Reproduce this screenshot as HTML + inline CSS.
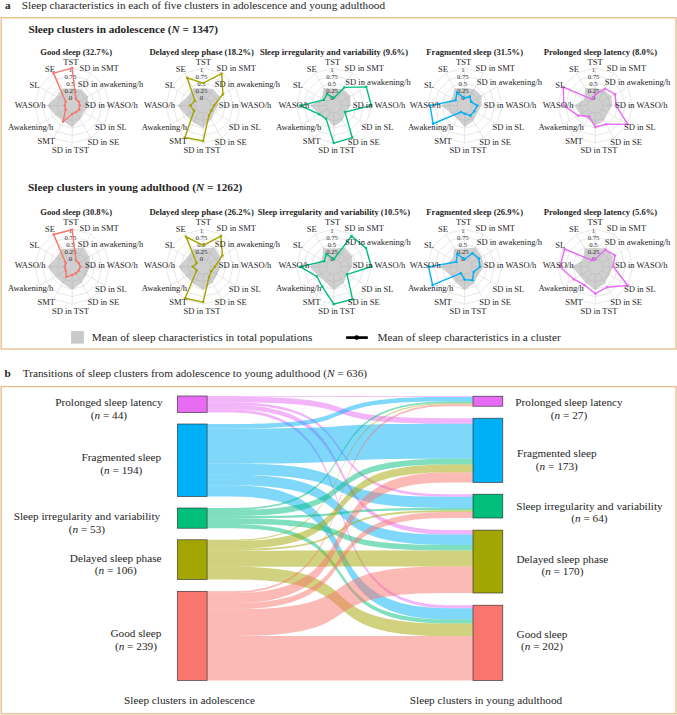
<!DOCTYPE html>
<html><head><meta charset="utf-8"><style>
html,body{margin:0;padding:0;background:#fff;width:677px;height:715px;overflow:hidden}
svg{display:block;font-family:"Liberation Serif",serif}
</style></head><body>
<svg width="677" height="715" viewBox="0 0 677 715">
<rect width="677" height="715" fill="#fff"/>
<rect x="1.2" y="17.7" width="674.8" height="331.3" fill="none" stroke="#E6C08E" stroke-width="1.4"/>
<rect x="1.2" y="386.6" width="674.8" height="327.2" fill="none" stroke="#E6C08E" stroke-width="1.4"/>
<text x="5.00" y="8.90" font-size="11.25" text-anchor="start" font-weight="bold" fill="#262626">a</text>
<text x="21.80" y="8.90" font-size="11.25" text-anchor="start" font-weight="normal" fill="#262626">Sleep characteristics in each of five clusters in adolescence and young adulthood</text>
<text x="4.40" y="376.60" font-size="11.25" text-anchor="start" font-weight="bold" fill="#262626">b</text>
<text x="22.70" y="376.60" font-size="11.25" text-anchor="start" font-weight="normal" fill="#262626">Transitions of sleep clusters from adolescence to young adulthood (<tspan font-style="italic">N</tspan> = 636)</text>
<text x="28.40" y="33.00" font-size="11.25" text-anchor="start" font-weight="bold" fill="#262626">Sleep clusters in adolescence (<tspan font-style="italic">N</tspan> = 1347)</text>
<text x="28.10" y="190.50" font-size="11.25" text-anchor="start" font-weight="bold" fill="#262626">Sleep clusters in young adulthood (<tspan font-style="italic">N</tspan> = 1262)</text>
<polygon points="72.20,98.10 68.45,99.10 65.70,101.85 64.70,105.60 65.70,109.35 68.45,112.10 72.20,113.10 75.95,112.10 78.70,109.35 79.70,105.60 78.70,101.85 75.95,99.10" fill="none" stroke="#DCDCDC" stroke-width="0.65"/>
<polygon points="72.20,90.60 64.70,92.61 59.21,98.10 57.20,105.60 59.21,113.10 64.70,118.59 72.20,120.60 79.70,118.59 85.19,113.10 87.20,105.60 85.19,98.10 79.70,92.61" fill="none" stroke="#DCDCDC" stroke-width="0.65"/>
<polygon points="72.20,83.10 60.95,86.11 52.71,94.35 49.70,105.60 52.71,116.85 60.95,125.09 72.20,128.10 83.45,125.09 91.69,116.85 94.70,105.60 91.69,94.35 83.45,86.11" fill="none" stroke="#DCDCDC" stroke-width="0.65"/>
<polygon points="72.20,75.60 57.20,79.62 46.22,90.60 42.20,105.60 46.22,120.60 57.20,131.58 72.20,135.60 87.20,131.58 98.18,120.60 102.20,105.60 98.18,90.60 87.20,79.62" fill="none" stroke="#DCDCDC" stroke-width="0.65"/>
<polygon points="72.20,68.10 53.45,73.12 39.72,86.85 34.70,105.60 39.72,124.35 53.45,138.08 72.20,143.10 90.95,138.08 104.68,124.35 109.70,105.60 104.68,86.85 90.95,73.12" fill="none" stroke="#DCDCDC" stroke-width="0.65"/>
<line x1="72.20" y1="98.10" x2="72.20" y2="68.10" stroke="#DCDCDC" stroke-width="0.65"/>
<line x1="68.45" y1="99.10" x2="53.45" y2="73.12" stroke="#DCDCDC" stroke-width="0.65"/>
<line x1="65.70" y1="101.85" x2="39.72" y2="86.85" stroke="#DCDCDC" stroke-width="0.65"/>
<line x1="64.70" y1="105.60" x2="34.70" y2="105.60" stroke="#DCDCDC" stroke-width="0.65"/>
<line x1="65.70" y1="109.35" x2="39.72" y2="124.35" stroke="#DCDCDC" stroke-width="0.65"/>
<line x1="68.45" y1="112.10" x2="53.45" y2="138.08" stroke="#DCDCDC" stroke-width="0.65"/>
<line x1="72.20" y1="113.10" x2="72.20" y2="143.10" stroke="#DCDCDC" stroke-width="0.65"/>
<line x1="75.95" y1="112.10" x2="90.95" y2="138.08" stroke="#DCDCDC" stroke-width="0.65"/>
<line x1="78.70" y1="109.35" x2="104.68" y2="124.35" stroke="#DCDCDC" stroke-width="0.65"/>
<line x1="79.70" y1="105.60" x2="109.70" y2="105.60" stroke="#DCDCDC" stroke-width="0.65"/>
<line x1="78.70" y1="101.85" x2="104.68" y2="86.85" stroke="#DCDCDC" stroke-width="0.65"/>
<line x1="75.95" y1="99.10" x2="90.95" y2="73.12" stroke="#DCDCDC" stroke-width="0.65"/>
<polygon points="72.20,88.50 62.30,88.45 56.61,96.60 47.00,105.60 55.57,115.20 63.20,121.19 72.20,127.20 80.15,119.37 83.89,112.35 88.10,105.60 88.05,96.45 81.50,89.49" fill="#9a9a9a" fill-opacity="0.47" stroke="none"/>
<text x="70.40" y="99.75" font-size="6.7" text-anchor="middle" fill="#333">0</text>
<text x="70.40" y="92.75" font-size="6.7" text-anchor="middle" fill="#333">0.25</text>
<text x="70.40" y="85.75" font-size="6.7" text-anchor="middle" fill="#333">0.5</text>
<text x="70.40" y="78.75" font-size="6.7" text-anchor="middle" fill="#333">0.75</text>
<text x="70.40" y="71.75" font-size="6.7" text-anchor="middle" fill="#333">1</text>
<polygon points="72.20,68.10 53.45,73.12 65.70,101.85 64.70,105.60 65.70,109.35 63.05,121.45 72.20,114.00 75.95,112.10 79.21,109.65 79.70,105.60 78.70,101.85 75.95,99.10" fill="none" stroke="#F8766D" stroke-width="1.4" stroke-linejoin="miter"/>
<circle cx="72.20" cy="68.10" r="1.25" fill="#F8766D"/>
<circle cx="53.45" cy="73.12" r="1.25" fill="#F8766D"/>
<circle cx="65.70" cy="101.85" r="1.25" fill="#F8766D"/>
<circle cx="64.70" cy="105.60" r="1.25" fill="#F8766D"/>
<circle cx="65.70" cy="109.35" r="1.25" fill="#F8766D"/>
<circle cx="63.05" cy="121.45" r="1.25" fill="#F8766D"/>
<circle cx="72.20" cy="114.00" r="1.25" fill="#F8766D"/>
<circle cx="75.95" cy="112.10" r="1.25" fill="#F8766D"/>
<circle cx="79.21" cy="109.65" r="1.25" fill="#F8766D"/>
<circle cx="79.70" cy="105.60" r="1.25" fill="#F8766D"/>
<circle cx="78.70" cy="101.85" r="1.25" fill="#F8766D"/>
<circle cx="75.95" cy="99.10" r="1.25" fill="#F8766D"/>
<text x="70.90" y="64.93" font-size="8.55" text-anchor="middle" fill="#262626">TST</text>
<text x="50.10" y="71.83" font-size="8.55" text-anchor="middle" fill="#262626">SE</text>
<text x="34.60" y="87.83" font-size="8.55" text-anchor="middle" fill="#262626">SL</text>
<text x="30.10" y="107.83" font-size="8.55" text-anchor="middle" fill="#262626">WASO/h</text>
<text x="30.70" y="129.53" font-size="8.55" text-anchor="middle" fill="#262626">Awakening/h</text>
<text x="46.30" y="144.03" font-size="8.55" text-anchor="middle" fill="#262626">SMT</text>
<text x="70.50" y="152.93" font-size="8.55" text-anchor="middle" fill="#262626">SD in TST</text>
<text x="103.30" y="144.53" font-size="8.55" text-anchor="middle" fill="#262626">SD in SE</text>
<text x="110.90" y="129.83" font-size="8.55" text-anchor="middle" fill="#262626">SD in SL</text>
<text x="111.40" y="108.13" font-size="8.55" text-anchor="middle" fill="#262626">SD in WASO/h</text>
<text x="110.60" y="86.53" font-size="8.55" text-anchor="middle" fill="#262626">SD in awakening/h</text>
<text x="99.10" y="70.53" font-size="8.55" text-anchor="middle" fill="#262626">SD in SMT</text>
<text x="76.20" y="54.60" font-size="8.6" font-weight="bold" text-anchor="middle" fill="#262626">Good sleep (32.7%)</text>
<polygon points="203.20,98.10 199.45,99.10 196.70,101.85 195.70,105.60 196.70,109.35 199.45,112.10 203.20,113.10 206.95,112.10 209.70,109.35 210.70,105.60 209.70,101.85 206.95,99.10" fill="none" stroke="#DCDCDC" stroke-width="0.65"/>
<polygon points="203.20,90.60 195.70,92.61 190.21,98.10 188.20,105.60 190.21,113.10 195.70,118.59 203.20,120.60 210.70,118.59 216.19,113.10 218.20,105.60 216.19,98.10 210.70,92.61" fill="none" stroke="#DCDCDC" stroke-width="0.65"/>
<polygon points="203.20,83.10 191.95,86.11 183.71,94.35 180.70,105.60 183.71,116.85 191.95,125.09 203.20,128.10 214.45,125.09 222.69,116.85 225.70,105.60 222.69,94.35 214.45,86.11" fill="none" stroke="#DCDCDC" stroke-width="0.65"/>
<polygon points="203.20,75.60 188.20,79.62 177.22,90.60 173.20,105.60 177.22,120.60 188.20,131.58 203.20,135.60 218.20,131.58 229.18,120.60 233.20,105.60 229.18,90.60 218.20,79.62" fill="none" stroke="#DCDCDC" stroke-width="0.65"/>
<polygon points="203.20,68.10 184.45,73.12 170.72,86.85 165.70,105.60 170.72,124.35 184.45,138.08 203.20,143.10 221.95,138.08 235.68,124.35 240.70,105.60 235.68,86.85 221.95,73.12" fill="none" stroke="#DCDCDC" stroke-width="0.65"/>
<line x1="203.20" y1="98.10" x2="203.20" y2="68.10" stroke="#DCDCDC" stroke-width="0.65"/>
<line x1="199.45" y1="99.10" x2="184.45" y2="73.12" stroke="#DCDCDC" stroke-width="0.65"/>
<line x1="196.70" y1="101.85" x2="170.72" y2="86.85" stroke="#DCDCDC" stroke-width="0.65"/>
<line x1="195.70" y1="105.60" x2="165.70" y2="105.60" stroke="#DCDCDC" stroke-width="0.65"/>
<line x1="196.70" y1="109.35" x2="170.72" y2="124.35" stroke="#DCDCDC" stroke-width="0.65"/>
<line x1="199.45" y1="112.10" x2="184.45" y2="138.08" stroke="#DCDCDC" stroke-width="0.65"/>
<line x1="203.20" y1="113.10" x2="203.20" y2="143.10" stroke="#DCDCDC" stroke-width="0.65"/>
<line x1="206.95" y1="112.10" x2="221.95" y2="138.08" stroke="#DCDCDC" stroke-width="0.65"/>
<line x1="209.70" y1="109.35" x2="235.68" y2="124.35" stroke="#DCDCDC" stroke-width="0.65"/>
<line x1="210.70" y1="105.60" x2="240.70" y2="105.60" stroke="#DCDCDC" stroke-width="0.65"/>
<line x1="209.70" y1="101.85" x2="235.68" y2="86.85" stroke="#DCDCDC" stroke-width="0.65"/>
<line x1="206.95" y1="99.10" x2="221.95" y2="73.12" stroke="#DCDCDC" stroke-width="0.65"/>
<polygon points="203.20,87.90 193.15,88.19 187.61,96.60 177.70,105.60 186.05,115.50 193.45,122.49 203.20,127.80 211.15,119.37 214.37,112.05 217.90,105.60 219.57,96.15 212.80,88.97" fill="#9a9a9a" fill-opacity="0.47" stroke="none"/>
<text x="201.40" y="99.75" font-size="6.7" text-anchor="middle" fill="#333">0</text>
<text x="201.40" y="92.75" font-size="6.7" text-anchor="middle" fill="#333">0.25</text>
<text x="201.40" y="85.75" font-size="6.7" text-anchor="middle" fill="#333">0.5</text>
<text x="201.40" y="78.75" font-size="6.7" text-anchor="middle" fill="#333">0.75</text>
<text x="201.40" y="71.75" font-size="6.7" text-anchor="middle" fill="#333">1</text>
<polygon points="203.20,83.10 187.15,77.80 194.89,100.80 190.30,105.60 194.11,110.85 184.82,137.43 203.20,141.00 208.90,115.47 211.51,110.40 214.00,105.60 222.95,94.20 221.65,73.64" fill="none" stroke="#A3A500" stroke-width="1.4" stroke-linejoin="miter"/>
<circle cx="203.20" cy="83.10" r="1.25" fill="#A3A500"/>
<circle cx="187.15" cy="77.80" r="1.25" fill="#A3A500"/>
<circle cx="194.89" cy="100.80" r="1.25" fill="#A3A500"/>
<circle cx="190.30" cy="105.60" r="1.25" fill="#A3A500"/>
<circle cx="194.11" cy="110.85" r="1.25" fill="#A3A500"/>
<circle cx="184.82" cy="137.43" r="1.25" fill="#A3A500"/>
<circle cx="203.20" cy="141.00" r="1.25" fill="#A3A500"/>
<circle cx="208.90" cy="115.47" r="1.25" fill="#A3A500"/>
<circle cx="211.51" cy="110.40" r="1.25" fill="#A3A500"/>
<circle cx="214.00" cy="105.60" r="1.25" fill="#A3A500"/>
<circle cx="222.95" cy="94.20" r="1.25" fill="#A3A500"/>
<circle cx="221.65" cy="73.64" r="1.25" fill="#A3A500"/>
<text x="203.30" y="64.93" font-size="8.55" text-anchor="middle" fill="#262626">TST</text>
<text x="180.70" y="71.83" font-size="8.55" text-anchor="middle" fill="#262626">SE</text>
<text x="170.10" y="87.83" font-size="8.55" text-anchor="middle" fill="#262626">SL</text>
<text x="159.50" y="107.83" font-size="8.55" text-anchor="middle" fill="#262626">WASO/h</text>
<text x="164.40" y="129.53" font-size="8.55" text-anchor="middle" fill="#262626">Awakening/h</text>
<text x="178.10" y="144.03" font-size="8.55" text-anchor="middle" fill="#262626">SMT</text>
<text x="202.00" y="152.93" font-size="8.55" text-anchor="middle" fill="#262626">SD in TST</text>
<text x="230.70" y="144.53" font-size="8.55" text-anchor="middle" fill="#262626">SD in SE</text>
<text x="244.70" y="129.83" font-size="8.55" text-anchor="middle" fill="#262626">SD in SL</text>
<text x="245.10" y="108.13" font-size="8.55" text-anchor="middle" fill="#262626">SD in WASO/h</text>
<text x="247.40" y="86.53" font-size="8.55" text-anchor="middle" fill="#262626">SD in awakening/h</text>
<text x="236.30" y="70.53" font-size="8.55" text-anchor="middle" fill="#262626">SD in SMT</text>
<text x="201.70" y="54.60" font-size="8.6" font-weight="bold" text-anchor="middle" fill="#262626">Delayed sleep phase (18.2%)</text>
<polygon points="333.80,98.10 330.05,99.10 327.30,101.85 326.30,105.60 327.30,109.35 330.05,112.10 333.80,113.10 337.55,112.10 340.30,109.35 341.30,105.60 340.30,101.85 337.55,99.10" fill="none" stroke="#DCDCDC" stroke-width="0.65"/>
<polygon points="333.80,90.60 326.30,92.61 320.81,98.10 318.80,105.60 320.81,113.10 326.30,118.59 333.80,120.60 341.30,118.59 346.79,113.10 348.80,105.60 346.79,98.10 341.30,92.61" fill="none" stroke="#DCDCDC" stroke-width="0.65"/>
<polygon points="333.80,83.10 322.55,86.11 314.31,94.35 311.30,105.60 314.31,116.85 322.55,125.09 333.80,128.10 345.05,125.09 353.29,116.85 356.30,105.60 353.29,94.35 345.05,86.11" fill="none" stroke="#DCDCDC" stroke-width="0.65"/>
<polygon points="333.80,75.60 318.80,79.62 307.82,90.60 303.80,105.60 307.82,120.60 318.80,131.58 333.80,135.60 348.80,131.58 359.78,120.60 363.80,105.60 359.78,90.60 348.80,79.62" fill="none" stroke="#DCDCDC" stroke-width="0.65"/>
<polygon points="333.80,68.10 315.05,73.12 301.32,86.85 296.30,105.60 301.32,124.35 315.05,138.08 333.80,143.10 352.55,138.08 366.28,124.35 371.30,105.60 366.28,86.85 352.55,73.12" fill="none" stroke="#DCDCDC" stroke-width="0.65"/>
<line x1="333.80" y1="98.10" x2="333.80" y2="68.10" stroke="#DCDCDC" stroke-width="0.65"/>
<line x1="330.05" y1="99.10" x2="315.05" y2="73.12" stroke="#DCDCDC" stroke-width="0.65"/>
<line x1="327.30" y1="101.85" x2="301.32" y2="86.85" stroke="#DCDCDC" stroke-width="0.65"/>
<line x1="326.30" y1="105.60" x2="296.30" y2="105.60" stroke="#DCDCDC" stroke-width="0.65"/>
<line x1="327.30" y1="109.35" x2="301.32" y2="124.35" stroke="#DCDCDC" stroke-width="0.65"/>
<line x1="330.05" y1="112.10" x2="315.05" y2="138.08" stroke="#DCDCDC" stroke-width="0.65"/>
<line x1="333.80" y1="113.10" x2="333.80" y2="143.10" stroke="#DCDCDC" stroke-width="0.65"/>
<line x1="337.55" y1="112.10" x2="352.55" y2="138.08" stroke="#DCDCDC" stroke-width="0.65"/>
<line x1="340.30" y1="109.35" x2="366.28" y2="124.35" stroke="#DCDCDC" stroke-width="0.65"/>
<line x1="341.30" y1="105.60" x2="371.30" y2="105.60" stroke="#DCDCDC" stroke-width="0.65"/>
<line x1="340.30" y1="101.85" x2="366.28" y2="86.85" stroke="#DCDCDC" stroke-width="0.65"/>
<line x1="337.55" y1="99.10" x2="352.55" y2="73.12" stroke="#DCDCDC" stroke-width="0.65"/>
<polygon points="333.80,88.50 323.60,87.93 321.85,98.70 310.70,105.60 318.73,114.30 326.45,118.33 333.80,126.60 342.50,120.67 345.49,112.35 350.60,105.60 350.43,96.00 343.40,88.97" fill="#9a9a9a" fill-opacity="0.47" stroke="none"/>
<text x="332.00" y="99.75" font-size="6.7" text-anchor="middle" fill="#333">0</text>
<text x="332.00" y="92.75" font-size="6.7" text-anchor="middle" fill="#333">0.25</text>
<text x="332.00" y="85.75" font-size="6.7" text-anchor="middle" fill="#333">0.5</text>
<text x="332.00" y="78.75" font-size="6.7" text-anchor="middle" fill="#333">0.75</text>
<text x="332.00" y="71.75" font-size="6.7" text-anchor="middle" fill="#333">1</text>
<polygon points="333.80,98.10 327.05,93.91 323.93,99.90 300.20,105.60 318.99,114.15 326.15,118.85 333.80,143.10 352.25,137.56 344.97,112.05 371.30,105.60 366.28,86.85 344.30,87.41" fill="none" stroke="#00BF7D" stroke-width="1.4" stroke-linejoin="miter"/>
<circle cx="333.80" cy="98.10" r="1.25" fill="#00BF7D"/>
<circle cx="327.05" cy="93.91" r="1.25" fill="#00BF7D"/>
<circle cx="323.93" cy="99.90" r="1.25" fill="#00BF7D"/>
<circle cx="300.20" cy="105.60" r="1.25" fill="#00BF7D"/>
<circle cx="318.99" cy="114.15" r="1.25" fill="#00BF7D"/>
<circle cx="326.15" cy="118.85" r="1.25" fill="#00BF7D"/>
<circle cx="333.80" cy="143.10" r="1.25" fill="#00BF7D"/>
<circle cx="352.25" cy="137.56" r="1.25" fill="#00BF7D"/>
<circle cx="344.97" cy="112.05" r="1.25" fill="#00BF7D"/>
<circle cx="371.30" cy="105.60" r="1.25" fill="#00BF7D"/>
<circle cx="366.28" cy="86.85" r="1.25" fill="#00BF7D"/>
<circle cx="344.30" cy="87.41" r="1.25" fill="#00BF7D"/>
<text x="332.70" y="64.93" font-size="8.55" text-anchor="middle" fill="#262626">TST</text>
<text x="311.70" y="71.83" font-size="8.55" text-anchor="middle" fill="#262626">SE</text>
<text x="298.00" y="87.83" font-size="8.55" text-anchor="middle" fill="#262626">SL</text>
<text x="293.90" y="107.83" font-size="8.55" text-anchor="middle" fill="#262626">WASO/h</text>
<text x="298.70" y="129.53" font-size="8.55" text-anchor="middle" fill="#262626">Awakening/h</text>
<text x="311.60" y="144.03" font-size="8.55" text-anchor="middle" fill="#262626">SMT</text>
<text x="336.60" y="152.93" font-size="8.55" text-anchor="middle" fill="#262626">SD in TST</text>
<text x="363.70" y="144.53" font-size="8.55" text-anchor="middle" fill="#262626">SD in SE</text>
<text x="377.50" y="129.83" font-size="8.55" text-anchor="middle" fill="#262626">SD in SL</text>
<text x="379.00" y="108.13" font-size="8.55" text-anchor="middle" fill="#262626">SD in WASO/h</text>
<text x="378.00" y="85.03" font-size="8.55" text-anchor="middle" fill="#262626">SD in awakening/h</text>
<text x="364.30" y="70.53" font-size="8.55" text-anchor="middle" fill="#262626">SD in SMT</text>
<text x="334.00" y="54.60" font-size="8.6" font-weight="bold" text-anchor="middle" fill="#262626">Sleep irregularity and variability (9.6%)</text>
<polygon points="464.60,98.10 460.85,99.10 458.10,101.85 457.10,105.60 458.10,109.35 460.85,112.10 464.60,113.10 468.35,112.10 471.10,109.35 472.10,105.60 471.10,101.85 468.35,99.10" fill="none" stroke="#DCDCDC" stroke-width="0.65"/>
<polygon points="464.60,90.60 457.10,92.61 451.61,98.10 449.60,105.60 451.61,113.10 457.10,118.59 464.60,120.60 472.10,118.59 477.59,113.10 479.60,105.60 477.59,98.10 472.10,92.61" fill="none" stroke="#DCDCDC" stroke-width="0.65"/>
<polygon points="464.60,83.10 453.35,86.11 445.11,94.35 442.10,105.60 445.11,116.85 453.35,125.09 464.60,128.10 475.85,125.09 484.09,116.85 487.10,105.60 484.09,94.35 475.85,86.11" fill="none" stroke="#DCDCDC" stroke-width="0.65"/>
<polygon points="464.60,75.60 449.60,79.62 438.62,90.60 434.60,105.60 438.62,120.60 449.60,131.58 464.60,135.60 479.60,131.58 490.58,120.60 494.60,105.60 490.58,90.60 479.60,79.62" fill="none" stroke="#DCDCDC" stroke-width="0.65"/>
<polygon points="464.60,68.10 445.85,73.12 432.12,86.85 427.10,105.60 432.12,124.35 445.85,138.08 464.60,143.10 483.35,138.08 497.08,124.35 502.10,105.60 497.08,86.85 483.35,73.12" fill="none" stroke="#DCDCDC" stroke-width="0.65"/>
<line x1="464.60" y1="98.10" x2="464.60" y2="68.10" stroke="#DCDCDC" stroke-width="0.65"/>
<line x1="460.85" y1="99.10" x2="445.85" y2="73.12" stroke="#DCDCDC" stroke-width="0.65"/>
<line x1="458.10" y1="101.85" x2="432.12" y2="86.85" stroke="#DCDCDC" stroke-width="0.65"/>
<line x1="457.10" y1="105.60" x2="427.10" y2="105.60" stroke="#DCDCDC" stroke-width="0.65"/>
<line x1="458.10" y1="109.35" x2="432.12" y2="124.35" stroke="#DCDCDC" stroke-width="0.65"/>
<line x1="460.85" y1="112.10" x2="445.85" y2="138.08" stroke="#DCDCDC" stroke-width="0.65"/>
<line x1="464.60" y1="113.10" x2="464.60" y2="143.10" stroke="#DCDCDC" stroke-width="0.65"/>
<line x1="468.35" y1="112.10" x2="483.35" y2="138.08" stroke="#DCDCDC" stroke-width="0.65"/>
<line x1="471.10" y1="109.35" x2="497.08" y2="124.35" stroke="#DCDCDC" stroke-width="0.65"/>
<line x1="472.10" y1="105.60" x2="502.10" y2="105.60" stroke="#DCDCDC" stroke-width="0.65"/>
<line x1="471.10" y1="101.85" x2="497.08" y2="86.85" stroke="#DCDCDC" stroke-width="0.65"/>
<line x1="468.35" y1="99.10" x2="483.35" y2="73.12" stroke="#DCDCDC" stroke-width="0.65"/>
<polygon points="464.60,87.90 454.55,88.19 452.39,98.55 441.50,105.60 451.09,113.40 457.10,118.59 464.60,126.90 473.30,120.67 477.07,112.80 481.40,105.60 481.75,95.70 474.20,88.97" fill="#9a9a9a" fill-opacity="0.47" stroke="none"/>
<text x="462.80" y="99.75" font-size="6.7" text-anchor="middle" fill="#333">0</text>
<text x="462.80" y="92.75" font-size="6.7" text-anchor="middle" fill="#333">0.25</text>
<text x="462.80" y="85.75" font-size="6.7" text-anchor="middle" fill="#333">0.5</text>
<text x="462.80" y="78.75" font-size="6.7" text-anchor="middle" fill="#333">0.75</text>
<text x="462.80" y="71.75" font-size="6.7" text-anchor="middle" fill="#333">1</text>
<polygon points="464.60,98.10 457.10,92.61 455.51,100.35 430.10,105.60 433.16,123.75 460.85,112.10 464.60,113.70 470.45,115.73 474.21,111.15 477.20,105.60 471.10,101.85 469.85,96.51" fill="none" stroke="#00B0F6" stroke-width="1.4" stroke-linejoin="miter"/>
<circle cx="464.60" cy="98.10" r="1.25" fill="#00B0F6"/>
<circle cx="457.10" cy="92.61" r="1.25" fill="#00B0F6"/>
<circle cx="455.51" cy="100.35" r="1.25" fill="#00B0F6"/>
<circle cx="430.10" cy="105.60" r="1.25" fill="#00B0F6"/>
<circle cx="433.16" cy="123.75" r="1.25" fill="#00B0F6"/>
<circle cx="460.85" cy="112.10" r="1.25" fill="#00B0F6"/>
<circle cx="464.60" cy="113.70" r="1.25" fill="#00B0F6"/>
<circle cx="470.45" cy="115.73" r="1.25" fill="#00B0F6"/>
<circle cx="474.21" cy="111.15" r="1.25" fill="#00B0F6"/>
<circle cx="477.20" cy="105.60" r="1.25" fill="#00B0F6"/>
<circle cx="471.10" cy="101.85" r="1.25" fill="#00B0F6"/>
<circle cx="469.85" cy="96.51" r="1.25" fill="#00B0F6"/>
<text x="463.60" y="64.93" font-size="8.55" text-anchor="middle" fill="#262626">TST</text>
<text x="443.10" y="71.83" font-size="8.55" text-anchor="middle" fill="#262626">SE</text>
<text x="428.90" y="87.83" font-size="8.55" text-anchor="middle" fill="#262626">SL</text>
<text x="425.30" y="107.83" font-size="8.55" text-anchor="middle" fill="#262626">WASO/h</text>
<text x="430.60" y="129.53" font-size="8.55" text-anchor="middle" fill="#262626">Awakening/h</text>
<text x="443.00" y="144.03" font-size="8.55" text-anchor="middle" fill="#262626">SMT</text>
<text x="468.00" y="152.93" font-size="8.55" text-anchor="middle" fill="#262626">SD in TST</text>
<text x="495.10" y="144.53" font-size="8.55" text-anchor="middle" fill="#262626">SD in SE</text>
<text x="508.40" y="129.83" font-size="8.55" text-anchor="middle" fill="#262626">SD in SL</text>
<text x="510.10" y="108.13" font-size="8.55" text-anchor="middle" fill="#262626">SD in WASO/h</text>
<text x="509.40" y="85.03" font-size="8.55" text-anchor="middle" fill="#262626">SD in awakening/h</text>
<text x="495.30" y="70.53" font-size="8.55" text-anchor="middle" fill="#262626">SD in SMT</text>
<text x="474.70" y="54.60" font-size="8.6" font-weight="bold" text-anchor="middle" fill="#262626">Fragmented sleep (31.5%)</text>
<polygon points="595.30,98.10 591.55,99.10 588.80,101.85 587.80,105.60 588.80,109.35 591.55,112.10 595.30,113.10 599.05,112.10 601.80,109.35 602.80,105.60 601.80,101.85 599.05,99.10" fill="none" stroke="#DCDCDC" stroke-width="0.65"/>
<polygon points="595.30,90.60 587.80,92.61 582.31,98.10 580.30,105.60 582.31,113.10 587.80,118.59 595.30,120.60 602.80,118.59 608.29,113.10 610.30,105.60 608.29,98.10 602.80,92.61" fill="none" stroke="#DCDCDC" stroke-width="0.65"/>
<polygon points="595.30,83.10 584.05,86.11 575.81,94.35 572.80,105.60 575.81,116.85 584.05,125.09 595.30,128.10 606.55,125.09 614.79,116.85 617.80,105.60 614.79,94.35 606.55,86.11" fill="none" stroke="#DCDCDC" stroke-width="0.65"/>
<polygon points="595.30,75.60 580.30,79.62 569.32,90.60 565.30,105.60 569.32,120.60 580.30,131.58 595.30,135.60 610.30,131.58 621.28,120.60 625.30,105.60 621.28,90.60 610.30,79.62" fill="none" stroke="#DCDCDC" stroke-width="0.65"/>
<polygon points="595.30,68.10 576.55,73.12 562.82,86.85 557.80,105.60 562.82,124.35 576.55,138.08 595.30,143.10 614.05,138.08 627.78,124.35 632.80,105.60 627.78,86.85 614.05,73.12" fill="none" stroke="#DCDCDC" stroke-width="0.65"/>
<line x1="595.30" y1="98.10" x2="595.30" y2="68.10" stroke="#DCDCDC" stroke-width="0.65"/>
<line x1="591.55" y1="99.10" x2="576.55" y2="73.12" stroke="#DCDCDC" stroke-width="0.65"/>
<line x1="588.80" y1="101.85" x2="562.82" y2="86.85" stroke="#DCDCDC" stroke-width="0.65"/>
<line x1="587.80" y1="105.60" x2="557.80" y2="105.60" stroke="#DCDCDC" stroke-width="0.65"/>
<line x1="588.80" y1="109.35" x2="562.82" y2="124.35" stroke="#DCDCDC" stroke-width="0.65"/>
<line x1="591.55" y1="112.10" x2="576.55" y2="138.08" stroke="#DCDCDC" stroke-width="0.65"/>
<line x1="595.30" y1="113.10" x2="595.30" y2="143.10" stroke="#DCDCDC" stroke-width="0.65"/>
<line x1="599.05" y1="112.10" x2="614.05" y2="138.08" stroke="#DCDCDC" stroke-width="0.65"/>
<line x1="601.80" y1="109.35" x2="627.78" y2="124.35" stroke="#DCDCDC" stroke-width="0.65"/>
<line x1="602.80" y1="105.60" x2="632.80" y2="105.60" stroke="#DCDCDC" stroke-width="0.65"/>
<line x1="601.80" y1="101.85" x2="627.78" y2="86.85" stroke="#DCDCDC" stroke-width="0.65"/>
<line x1="599.05" y1="99.10" x2="614.05" y2="73.12" stroke="#DCDCDC" stroke-width="0.65"/>
<polygon points="595.30,87.90 585.10,87.93 584.13,99.15 574.30,105.60 580.23,114.30 587.65,118.85 595.30,125.70 604.00,120.67 607.51,112.65 612.10,105.60 611.41,96.30 604.15,90.27" fill="#9a9a9a" fill-opacity="0.47" stroke="none"/>
<text x="593.50" y="99.75" font-size="6.7" text-anchor="middle" fill="#333">0</text>
<text x="593.50" y="92.75" font-size="6.7" text-anchor="middle" fill="#333">0.25</text>
<text x="593.50" y="85.75" font-size="6.7" text-anchor="middle" fill="#333">0.5</text>
<text x="593.50" y="78.75" font-size="6.7" text-anchor="middle" fill="#333">0.75</text>
<text x="593.50" y="71.75" font-size="6.7" text-anchor="middle" fill="#333">1</text>
<polygon points="595.30,94.50 591.55,99.10 563.34,87.15 563.80,105.60 578.15,115.50 589.00,116.51 595.30,126.90 606.10,124.31 627.78,124.35 616.00,105.60 615.05,94.20 605.05,88.71" fill="none" stroke="#E76BF3" stroke-width="1.4" stroke-linejoin="miter"/>
<circle cx="595.30" cy="94.50" r="1.25" fill="#E76BF3"/>
<circle cx="591.55" cy="99.10" r="1.25" fill="#E76BF3"/>
<circle cx="563.34" cy="87.15" r="1.25" fill="#E76BF3"/>
<circle cx="563.80" cy="105.60" r="1.25" fill="#E76BF3"/>
<circle cx="578.15" cy="115.50" r="1.25" fill="#E76BF3"/>
<circle cx="589.00" cy="116.51" r="1.25" fill="#E76BF3"/>
<circle cx="595.30" cy="126.90" r="1.25" fill="#E76BF3"/>
<circle cx="606.10" cy="124.31" r="1.25" fill="#E76BF3"/>
<circle cx="627.78" cy="124.35" r="1.25" fill="#E76BF3"/>
<circle cx="616.00" cy="105.60" r="1.25" fill="#E76BF3"/>
<circle cx="615.05" cy="94.20" r="1.25" fill="#E76BF3"/>
<circle cx="605.05" cy="88.71" r="1.25" fill="#E76BF3"/>
<text x="595.20" y="64.93" font-size="8.55" text-anchor="middle" fill="#262626">TST</text>
<text x="573.90" y="71.83" font-size="8.55" text-anchor="middle" fill="#262626">SE</text>
<text x="560.20" y="87.83" font-size="8.55" text-anchor="middle" fill="#262626">SL</text>
<text x="558.10" y="107.83" font-size="8.55" text-anchor="middle" fill="#262626">WASO/h</text>
<text x="561.20" y="129.53" font-size="8.55" text-anchor="middle" fill="#262626">Awakening/h</text>
<text x="574.00" y="144.03" font-size="8.55" text-anchor="middle" fill="#262626">SMT</text>
<text x="599.00" y="152.93" font-size="8.55" text-anchor="middle" fill="#262626">SD in TST</text>
<text x="626.10" y="144.53" font-size="8.55" text-anchor="middle" fill="#262626">SD in SE</text>
<text x="639.80" y="129.83" font-size="8.55" text-anchor="middle" fill="#262626">SD in SL</text>
<text x="641.20" y="108.13" font-size="8.55" text-anchor="middle" fill="#262626">SD in WASO/h</text>
<text x="637.60" y="85.03" font-size="8.55" text-anchor="middle" fill="#262626">SD in awakening/h</text>
<text x="626.40" y="70.53" font-size="8.55" text-anchor="middle" fill="#262626">SD in SMT</text>
<text x="600.50" y="54.60" font-size="8.6" font-weight="bold" text-anchor="middle" fill="#262626">Prolonged sleep latency (8.0%)</text>
<polygon points="72.20,259.20 68.45,260.20 65.70,262.95 64.70,266.70 65.70,270.45 68.45,273.20 72.20,274.20 75.95,273.20 78.70,270.45 79.70,266.70 78.70,262.95 75.95,260.20" fill="none" stroke="#DCDCDC" stroke-width="0.65"/>
<polygon points="72.20,251.70 64.70,253.71 59.21,259.20 57.20,266.70 59.21,274.20 64.70,279.69 72.20,281.70 79.70,279.69 85.19,274.20 87.20,266.70 85.19,259.20 79.70,253.71" fill="none" stroke="#DCDCDC" stroke-width="0.65"/>
<polygon points="72.20,244.20 60.95,247.21 52.71,255.45 49.70,266.70 52.71,277.95 60.95,286.19 72.20,289.20 83.45,286.19 91.69,277.95 94.70,266.70 91.69,255.45 83.45,247.21" fill="none" stroke="#DCDCDC" stroke-width="0.65"/>
<polygon points="72.20,236.70 57.20,240.72 46.22,251.70 42.20,266.70 46.22,281.70 57.20,292.68 72.20,296.70 87.20,292.68 98.18,281.70 102.20,266.70 98.18,251.70 87.20,240.72" fill="none" stroke="#DCDCDC" stroke-width="0.65"/>
<polygon points="72.20,229.20 53.45,234.22 39.72,247.95 34.70,266.70 39.72,285.45 53.45,299.18 72.20,304.20 90.95,299.18 104.68,285.45 109.70,266.70 104.68,247.95 90.95,234.22" fill="none" stroke="#DCDCDC" stroke-width="0.65"/>
<line x1="72.20" y1="259.20" x2="72.20" y2="229.20" stroke="#DCDCDC" stroke-width="0.65"/>
<line x1="68.45" y1="260.20" x2="53.45" y2="234.22" stroke="#DCDCDC" stroke-width="0.65"/>
<line x1="65.70" y1="262.95" x2="39.72" y2="247.95" stroke="#DCDCDC" stroke-width="0.65"/>
<line x1="64.70" y1="266.70" x2="34.70" y2="266.70" stroke="#DCDCDC" stroke-width="0.65"/>
<line x1="65.70" y1="270.45" x2="39.72" y2="285.45" stroke="#DCDCDC" stroke-width="0.65"/>
<line x1="68.45" y1="273.20" x2="53.45" y2="299.18" stroke="#DCDCDC" stroke-width="0.65"/>
<line x1="72.20" y1="274.20" x2="72.20" y2="304.20" stroke="#DCDCDC" stroke-width="0.65"/>
<line x1="75.95" y1="273.20" x2="90.95" y2="299.18" stroke="#DCDCDC" stroke-width="0.65"/>
<line x1="78.70" y1="270.45" x2="104.68" y2="285.45" stroke="#DCDCDC" stroke-width="0.65"/>
<line x1="79.70" y1="266.70" x2="109.70" y2="266.70" stroke="#DCDCDC" stroke-width="0.65"/>
<line x1="78.70" y1="262.95" x2="104.68" y2="247.95" stroke="#DCDCDC" stroke-width="0.65"/>
<line x1="75.95" y1="260.20" x2="90.95" y2="234.22" stroke="#DCDCDC" stroke-width="0.65"/>
<polygon points="72.20,248.40 61.85,248.77 56.09,257.40 47.60,266.70 55.31,276.45 62.60,283.33 72.20,289.80 81.50,282.81 86.49,274.95 89.90,266.70 89.61,256.65 83.30,247.47" fill="#9a9a9a" fill-opacity="0.47" stroke="none"/>
<text x="70.40" y="260.85" font-size="6.7" text-anchor="middle" fill="#333">0</text>
<text x="70.40" y="253.85" font-size="6.7" text-anchor="middle" fill="#333">0.25</text>
<text x="70.40" y="246.85" font-size="6.7" text-anchor="middle" fill="#333">0.5</text>
<text x="70.40" y="239.85" font-size="6.7" text-anchor="middle" fill="#333">0.75</text>
<text x="70.40" y="232.85" font-size="6.7" text-anchor="middle" fill="#333">1</text>
<polygon points="72.20,229.80 53.60,234.48 65.70,262.95 64.70,266.70 65.70,270.45 66.35,276.83 72.20,275.10 75.95,273.20 78.70,270.45 80.30,266.70 78.70,262.95 75.95,260.20" fill="none" stroke="#F8766D" stroke-width="1.4" stroke-linejoin="miter"/>
<circle cx="72.20" cy="229.80" r="1.25" fill="#F8766D"/>
<circle cx="53.60" cy="234.48" r="1.25" fill="#F8766D"/>
<circle cx="65.70" cy="262.95" r="1.25" fill="#F8766D"/>
<circle cx="64.70" cy="266.70" r="1.25" fill="#F8766D"/>
<circle cx="65.70" cy="270.45" r="1.25" fill="#F8766D"/>
<circle cx="66.35" cy="276.83" r="1.25" fill="#F8766D"/>
<circle cx="72.20" cy="275.10" r="1.25" fill="#F8766D"/>
<circle cx="75.95" cy="273.20" r="1.25" fill="#F8766D"/>
<circle cx="78.70" cy="270.45" r="1.25" fill="#F8766D"/>
<circle cx="80.30" cy="266.70" r="1.25" fill="#F8766D"/>
<circle cx="78.70" cy="262.95" r="1.25" fill="#F8766D"/>
<circle cx="75.95" cy="260.20" r="1.25" fill="#F8766D"/>
<text x="70.90" y="224.93" font-size="8.55" text-anchor="middle" fill="#262626">TST</text>
<text x="50.10" y="231.83" font-size="8.55" text-anchor="middle" fill="#262626">SE</text>
<text x="34.60" y="247.83" font-size="8.55" text-anchor="middle" fill="#262626">SL</text>
<text x="30.10" y="267.83" font-size="8.55" text-anchor="middle" fill="#262626">WASO/h</text>
<text x="30.70" y="291.23" font-size="8.55" text-anchor="middle" fill="#262626">Awakening/h</text>
<text x="46.30" y="304.83" font-size="8.55" text-anchor="middle" fill="#262626">SMT</text>
<text x="70.50" y="313.53" font-size="8.55" text-anchor="middle" fill="#262626">SD in TST</text>
<text x="103.30" y="304.53" font-size="8.55" text-anchor="middle" fill="#262626">SD in SE</text>
<text x="110.90" y="291.53" font-size="8.55" text-anchor="middle" fill="#262626">SD in SL</text>
<text x="111.40" y="268.13" font-size="8.55" text-anchor="middle" fill="#262626">SD in WASO/h</text>
<text x="110.60" y="246.53" font-size="8.55" text-anchor="middle" fill="#262626">SD in awakening/h</text>
<text x="99.10" y="230.53" font-size="8.55" text-anchor="middle" fill="#262626">SD in SMT</text>
<text x="76.20" y="214.60" font-size="8.6" font-weight="bold" text-anchor="middle" fill="#262626">Good sleep (30.8%)</text>
<polygon points="203.20,259.20 199.45,260.20 196.70,262.95 195.70,266.70 196.70,270.45 199.45,273.20 203.20,274.20 206.95,273.20 209.70,270.45 210.70,266.70 209.70,262.95 206.95,260.20" fill="none" stroke="#DCDCDC" stroke-width="0.65"/>
<polygon points="203.20,251.70 195.70,253.71 190.21,259.20 188.20,266.70 190.21,274.20 195.70,279.69 203.20,281.70 210.70,279.69 216.19,274.20 218.20,266.70 216.19,259.20 210.70,253.71" fill="none" stroke="#DCDCDC" stroke-width="0.65"/>
<polygon points="203.20,244.20 191.95,247.21 183.71,255.45 180.70,266.70 183.71,277.95 191.95,286.19 203.20,289.20 214.45,286.19 222.69,277.95 225.70,266.70 222.69,255.45 214.45,247.21" fill="none" stroke="#DCDCDC" stroke-width="0.65"/>
<polygon points="203.20,236.70 188.20,240.72 177.22,251.70 173.20,266.70 177.22,281.70 188.20,292.68 203.20,296.70 218.20,292.68 229.18,281.70 233.20,266.70 229.18,251.70 218.20,240.72" fill="none" stroke="#DCDCDC" stroke-width="0.65"/>
<polygon points="203.20,229.20 184.45,234.22 170.72,247.95 165.70,266.70 170.72,285.45 184.45,299.18 203.20,304.20 221.95,299.18 235.68,285.45 240.70,266.70 235.68,247.95 221.95,234.22" fill="none" stroke="#DCDCDC" stroke-width="0.65"/>
<line x1="203.20" y1="259.20" x2="203.20" y2="229.20" stroke="#DCDCDC" stroke-width="0.65"/>
<line x1="199.45" y1="260.20" x2="184.45" y2="234.22" stroke="#DCDCDC" stroke-width="0.65"/>
<line x1="196.70" y1="262.95" x2="170.72" y2="247.95" stroke="#DCDCDC" stroke-width="0.65"/>
<line x1="195.70" y1="266.70" x2="165.70" y2="266.70" stroke="#DCDCDC" stroke-width="0.65"/>
<line x1="196.70" y1="270.45" x2="170.72" y2="285.45" stroke="#DCDCDC" stroke-width="0.65"/>
<line x1="199.45" y1="273.20" x2="184.45" y2="299.18" stroke="#DCDCDC" stroke-width="0.65"/>
<line x1="203.20" y1="274.20" x2="203.20" y2="304.20" stroke="#DCDCDC" stroke-width="0.65"/>
<line x1="206.95" y1="273.20" x2="221.95" y2="299.18" stroke="#DCDCDC" stroke-width="0.65"/>
<line x1="209.70" y1="270.45" x2="235.68" y2="285.45" stroke="#DCDCDC" stroke-width="0.65"/>
<line x1="210.70" y1="266.70" x2="240.70" y2="266.70" stroke="#DCDCDC" stroke-width="0.65"/>
<line x1="209.70" y1="262.95" x2="235.68" y2="247.95" stroke="#DCDCDC" stroke-width="0.65"/>
<line x1="206.95" y1="260.20" x2="221.95" y2="234.22" stroke="#DCDCDC" stroke-width="0.65"/>
<polygon points="203.20,248.40 193.00,249.03 187.09,257.40 178.60,266.70 186.31,276.45 193.30,283.85 203.20,289.80 212.50,282.81 217.23,274.80 220.30,266.70 220.61,256.65 214.30,247.47" fill="#9a9a9a" fill-opacity="0.47" stroke="none"/>
<text x="201.40" y="260.85" font-size="6.7" text-anchor="middle" fill="#333">0</text>
<text x="201.40" y="253.85" font-size="6.7" text-anchor="middle" fill="#333">0.25</text>
<text x="201.40" y="246.85" font-size="6.7" text-anchor="middle" fill="#333">0.5</text>
<text x="201.40" y="239.85" font-size="6.7" text-anchor="middle" fill="#333">0.75</text>
<text x="201.40" y="232.85" font-size="6.7" text-anchor="middle" fill="#333">1</text>
<polygon points="203.20,245.40 185.95,236.82 196.70,262.95 192.70,266.70 196.70,270.45 185.05,298.14 203.20,302.10 209.05,276.83 211.25,271.35 214.90,266.70 222.43,255.60 220.90,236.04" fill="none" stroke="#A3A500" stroke-width="1.4" stroke-linejoin="miter"/>
<circle cx="203.20" cy="245.40" r="1.25" fill="#A3A500"/>
<circle cx="185.95" cy="236.82" r="1.25" fill="#A3A500"/>
<circle cx="196.70" cy="262.95" r="1.25" fill="#A3A500"/>
<circle cx="192.70" cy="266.70" r="1.25" fill="#A3A500"/>
<circle cx="196.70" cy="270.45" r="1.25" fill="#A3A500"/>
<circle cx="185.05" cy="298.14" r="1.25" fill="#A3A500"/>
<circle cx="203.20" cy="302.10" r="1.25" fill="#A3A500"/>
<circle cx="209.05" cy="276.83" r="1.25" fill="#A3A500"/>
<circle cx="211.25" cy="271.35" r="1.25" fill="#A3A500"/>
<circle cx="214.90" cy="266.70" r="1.25" fill="#A3A500"/>
<circle cx="222.43" cy="255.60" r="1.25" fill="#A3A500"/>
<circle cx="220.90" cy="236.04" r="1.25" fill="#A3A500"/>
<text x="203.30" y="224.93" font-size="8.55" text-anchor="middle" fill="#262626">TST</text>
<text x="180.70" y="231.83" font-size="8.55" text-anchor="middle" fill="#262626">SE</text>
<text x="170.10" y="247.83" font-size="8.55" text-anchor="middle" fill="#262626">SL</text>
<text x="159.50" y="267.83" font-size="8.55" text-anchor="middle" fill="#262626">WASO/h</text>
<text x="164.40" y="291.23" font-size="8.55" text-anchor="middle" fill="#262626">Awakening/h</text>
<text x="178.10" y="304.83" font-size="8.55" text-anchor="middle" fill="#262626">SMT</text>
<text x="202.00" y="313.53" font-size="8.55" text-anchor="middle" fill="#262626">SD in TST</text>
<text x="230.70" y="304.53" font-size="8.55" text-anchor="middle" fill="#262626">SD in SE</text>
<text x="244.70" y="291.53" font-size="8.55" text-anchor="middle" fill="#262626">SD in SL</text>
<text x="245.10" y="268.13" font-size="8.55" text-anchor="middle" fill="#262626">SD in WASO/h</text>
<text x="247.40" y="246.53" font-size="8.55" text-anchor="middle" fill="#262626">SD in awakening/h</text>
<text x="236.30" y="230.53" font-size="8.55" text-anchor="middle" fill="#262626">SD in SMT</text>
<text x="201.70" y="214.60" font-size="8.6" font-weight="bold" text-anchor="middle" fill="#262626">Delayed sleep phase (26.2%)</text>
<polygon points="333.80,259.20 330.05,260.20 327.30,262.95 326.30,266.70 327.30,270.45 330.05,273.20 333.80,274.20 337.55,273.20 340.30,270.45 341.30,266.70 340.30,262.95 337.55,260.20" fill="none" stroke="#DCDCDC" stroke-width="0.65"/>
<polygon points="333.80,251.70 326.30,253.71 320.81,259.20 318.80,266.70 320.81,274.20 326.30,279.69 333.80,281.70 341.30,279.69 346.79,274.20 348.80,266.70 346.79,259.20 341.30,253.71" fill="none" stroke="#DCDCDC" stroke-width="0.65"/>
<polygon points="333.80,244.20 322.55,247.21 314.31,255.45 311.30,266.70 314.31,277.95 322.55,286.19 333.80,289.20 345.05,286.19 353.29,277.95 356.30,266.70 353.29,255.45 345.05,247.21" fill="none" stroke="#DCDCDC" stroke-width="0.65"/>
<polygon points="333.80,236.70 318.80,240.72 307.82,251.70 303.80,266.70 307.82,281.70 318.80,292.68 333.80,296.70 348.80,292.68 359.78,281.70 363.80,266.70 359.78,251.70 348.80,240.72" fill="none" stroke="#DCDCDC" stroke-width="0.65"/>
<polygon points="333.80,229.20 315.05,234.22 301.32,247.95 296.30,266.70 301.32,285.45 315.05,299.18 333.80,304.20 352.55,299.18 366.28,285.45 371.30,266.70 366.28,247.95 352.55,234.22" fill="none" stroke="#DCDCDC" stroke-width="0.65"/>
<line x1="333.80" y1="259.20" x2="333.80" y2="229.20" stroke="#DCDCDC" stroke-width="0.65"/>
<line x1="330.05" y1="260.20" x2="315.05" y2="234.22" stroke="#DCDCDC" stroke-width="0.65"/>
<line x1="327.30" y1="262.95" x2="301.32" y2="247.95" stroke="#DCDCDC" stroke-width="0.65"/>
<line x1="326.30" y1="266.70" x2="296.30" y2="266.70" stroke="#DCDCDC" stroke-width="0.65"/>
<line x1="327.30" y1="270.45" x2="301.32" y2="285.45" stroke="#DCDCDC" stroke-width="0.65"/>
<line x1="330.05" y1="273.20" x2="315.05" y2="299.18" stroke="#DCDCDC" stroke-width="0.65"/>
<line x1="333.80" y1="274.20" x2="333.80" y2="304.20" stroke="#DCDCDC" stroke-width="0.65"/>
<line x1="337.55" y1="273.20" x2="352.55" y2="299.18" stroke="#DCDCDC" stroke-width="0.65"/>
<line x1="340.30" y1="270.45" x2="366.28" y2="285.45" stroke="#DCDCDC" stroke-width="0.65"/>
<line x1="341.30" y1="266.70" x2="371.30" y2="266.70" stroke="#DCDCDC" stroke-width="0.65"/>
<line x1="340.30" y1="262.95" x2="366.28" y2="247.95" stroke="#DCDCDC" stroke-width="0.65"/>
<line x1="337.55" y1="260.20" x2="352.55" y2="234.22" stroke="#DCDCDC" stroke-width="0.65"/>
<polygon points="333.80,248.40 323.15,248.25 322.11,259.95 309.80,266.70 317.95,275.85 325.10,281.77 333.80,290.10 343.40,283.33 347.31,274.50 352.40,266.70 352.25,256.05 344.75,247.73" fill="#9a9a9a" fill-opacity="0.47" stroke="none"/>
<text x="332.00" y="260.85" font-size="6.7" text-anchor="middle" fill="#333">0</text>
<text x="332.00" y="253.85" font-size="6.7" text-anchor="middle" fill="#333">0.25</text>
<text x="332.00" y="246.85" font-size="6.7" text-anchor="middle" fill="#333">0.5</text>
<text x="332.00" y="239.85" font-size="6.7" text-anchor="middle" fill="#333">0.75</text>
<text x="332.00" y="232.85" font-size="6.7" text-anchor="middle" fill="#333">1</text>
<polygon points="333.80,259.20 326.45,253.97 324.19,261.15 300.20,266.70 316.91,276.45 322.25,286.71 333.80,304.20 352.55,299.18 347.05,274.35 371.30,266.70 366.02,248.10 351.50,236.04" fill="none" stroke="#00BF7D" stroke-width="1.4" stroke-linejoin="miter"/>
<circle cx="333.80" cy="259.20" r="1.25" fill="#00BF7D"/>
<circle cx="326.45" cy="253.97" r="1.25" fill="#00BF7D"/>
<circle cx="324.19" cy="261.15" r="1.25" fill="#00BF7D"/>
<circle cx="300.20" cy="266.70" r="1.25" fill="#00BF7D"/>
<circle cx="316.91" cy="276.45" r="1.25" fill="#00BF7D"/>
<circle cx="322.25" cy="286.71" r="1.25" fill="#00BF7D"/>
<circle cx="333.80" cy="304.20" r="1.25" fill="#00BF7D"/>
<circle cx="352.55" cy="299.18" r="1.25" fill="#00BF7D"/>
<circle cx="347.05" cy="274.35" r="1.25" fill="#00BF7D"/>
<circle cx="371.30" cy="266.70" r="1.25" fill="#00BF7D"/>
<circle cx="366.02" cy="248.10" r="1.25" fill="#00BF7D"/>
<circle cx="351.50" cy="236.04" r="1.25" fill="#00BF7D"/>
<text x="332.70" y="224.93" font-size="8.55" text-anchor="middle" fill="#262626">TST</text>
<text x="311.70" y="231.83" font-size="8.55" text-anchor="middle" fill="#262626">SE</text>
<text x="298.00" y="247.83" font-size="8.55" text-anchor="middle" fill="#262626">SL</text>
<text x="293.90" y="267.83" font-size="8.55" text-anchor="middle" fill="#262626">WASO/h</text>
<text x="298.70" y="291.23" font-size="8.55" text-anchor="middle" fill="#262626">Awakening/h</text>
<text x="311.60" y="304.83" font-size="8.55" text-anchor="middle" fill="#262626">SMT</text>
<text x="336.60" y="313.53" font-size="8.55" text-anchor="middle" fill="#262626">SD in TST</text>
<text x="363.70" y="304.53" font-size="8.55" text-anchor="middle" fill="#262626">SD in SE</text>
<text x="377.50" y="291.53" font-size="8.55" text-anchor="middle" fill="#262626">SD in SL</text>
<text x="379.00" y="268.13" font-size="8.55" text-anchor="middle" fill="#262626">SD in WASO/h</text>
<text x="378.00" y="245.03" font-size="8.55" text-anchor="middle" fill="#262626">SD in awakening/h</text>
<text x="364.30" y="230.53" font-size="8.55" text-anchor="middle" fill="#262626">SD in SMT</text>
<text x="334.00" y="214.60" font-size="8.6" font-weight="bold" text-anchor="middle" fill="#262626">Sleep irregularity and variability (10.5%)</text>
<polygon points="464.60,259.20 460.85,260.20 458.10,262.95 457.10,266.70 458.10,270.45 460.85,273.20 464.60,274.20 468.35,273.20 471.10,270.45 472.10,266.70 471.10,262.95 468.35,260.20" fill="none" stroke="#DCDCDC" stroke-width="0.65"/>
<polygon points="464.60,251.70 457.10,253.71 451.61,259.20 449.60,266.70 451.61,274.20 457.10,279.69 464.60,281.70 472.10,279.69 477.59,274.20 479.60,266.70 477.59,259.20 472.10,253.71" fill="none" stroke="#DCDCDC" stroke-width="0.65"/>
<polygon points="464.60,244.20 453.35,247.21 445.11,255.45 442.10,266.70 445.11,277.95 453.35,286.19 464.60,289.20 475.85,286.19 484.09,277.95 487.10,266.70 484.09,255.45 475.85,247.21" fill="none" stroke="#DCDCDC" stroke-width="0.65"/>
<polygon points="464.60,236.70 449.60,240.72 438.62,251.70 434.60,266.70 438.62,281.70 449.60,292.68 464.60,296.70 479.60,292.68 490.58,281.70 494.60,266.70 490.58,251.70 479.60,240.72" fill="none" stroke="#DCDCDC" stroke-width="0.65"/>
<polygon points="464.60,229.20 445.85,234.22 432.12,247.95 427.10,266.70 432.12,285.45 445.85,299.18 464.60,304.20 483.35,299.18 497.08,285.45 502.10,266.70 497.08,247.95 483.35,234.22" fill="none" stroke="#DCDCDC" stroke-width="0.65"/>
<line x1="464.60" y1="259.20" x2="464.60" y2="229.20" stroke="#DCDCDC" stroke-width="0.65"/>
<line x1="460.85" y1="260.20" x2="445.85" y2="234.22" stroke="#DCDCDC" stroke-width="0.65"/>
<line x1="458.10" y1="262.95" x2="432.12" y2="247.95" stroke="#DCDCDC" stroke-width="0.65"/>
<line x1="457.10" y1="266.70" x2="427.10" y2="266.70" stroke="#DCDCDC" stroke-width="0.65"/>
<line x1="458.10" y1="270.45" x2="432.12" y2="285.45" stroke="#DCDCDC" stroke-width="0.65"/>
<line x1="460.85" y1="273.20" x2="445.85" y2="299.18" stroke="#DCDCDC" stroke-width="0.65"/>
<line x1="464.60" y1="274.20" x2="464.60" y2="304.20" stroke="#DCDCDC" stroke-width="0.65"/>
<line x1="468.35" y1="273.20" x2="483.35" y2="299.18" stroke="#DCDCDC" stroke-width="0.65"/>
<line x1="471.10" y1="270.45" x2="497.08" y2="285.45" stroke="#DCDCDC" stroke-width="0.65"/>
<line x1="472.10" y1="266.70" x2="502.10" y2="266.70" stroke="#DCDCDC" stroke-width="0.65"/>
<line x1="471.10" y1="262.95" x2="497.08" y2="247.95" stroke="#DCDCDC" stroke-width="0.65"/>
<line x1="468.35" y1="260.20" x2="483.35" y2="234.22" stroke="#DCDCDC" stroke-width="0.65"/>
<polygon points="464.60,248.40 454.25,248.77 452.65,259.80 440.30,266.70 450.05,275.10 455.60,282.29 464.60,290.10 474.20,283.33 478.37,274.65 483.80,266.70 482.01,256.65 475.70,247.47" fill="#9a9a9a" fill-opacity="0.47" stroke="none"/>
<text x="462.80" y="260.85" font-size="6.7" text-anchor="middle" fill="#333">0</text>
<text x="462.80" y="253.85" font-size="6.7" text-anchor="middle" fill="#333">0.25</text>
<text x="462.80" y="246.85" font-size="6.7" text-anchor="middle" fill="#333">0.5</text>
<text x="462.80" y="239.85" font-size="6.7" text-anchor="middle" fill="#333">0.75</text>
<text x="462.80" y="232.85" font-size="6.7" text-anchor="middle" fill="#333">1</text>
<polygon points="464.60,259.20 457.25,253.97 456.29,261.90 428.60,266.70 432.64,285.15 460.85,273.20 464.60,279.60 472.40,280.21 473.69,271.95 479.90,266.70 478.89,258.45 472.40,253.19" fill="none" stroke="#00B0F6" stroke-width="1.4" stroke-linejoin="miter"/>
<circle cx="464.60" cy="259.20" r="1.25" fill="#00B0F6"/>
<circle cx="457.25" cy="253.97" r="1.25" fill="#00B0F6"/>
<circle cx="456.29" cy="261.90" r="1.25" fill="#00B0F6"/>
<circle cx="428.60" cy="266.70" r="1.25" fill="#00B0F6"/>
<circle cx="432.64" cy="285.15" r="1.25" fill="#00B0F6"/>
<circle cx="460.85" cy="273.20" r="1.25" fill="#00B0F6"/>
<circle cx="464.60" cy="279.60" r="1.25" fill="#00B0F6"/>
<circle cx="472.40" cy="280.21" r="1.25" fill="#00B0F6"/>
<circle cx="473.69" cy="271.95" r="1.25" fill="#00B0F6"/>
<circle cx="479.90" cy="266.70" r="1.25" fill="#00B0F6"/>
<circle cx="478.89" cy="258.45" r="1.25" fill="#00B0F6"/>
<circle cx="472.40" cy="253.19" r="1.25" fill="#00B0F6"/>
<text x="463.60" y="224.93" font-size="8.55" text-anchor="middle" fill="#262626">TST</text>
<text x="443.10" y="231.83" font-size="8.55" text-anchor="middle" fill="#262626">SE</text>
<text x="428.90" y="247.83" font-size="8.55" text-anchor="middle" fill="#262626">SL</text>
<text x="425.30" y="267.83" font-size="8.55" text-anchor="middle" fill="#262626">WASO/h</text>
<text x="430.60" y="291.23" font-size="8.55" text-anchor="middle" fill="#262626">Awakening/h</text>
<text x="443.00" y="304.83" font-size="8.55" text-anchor="middle" fill="#262626">SMT</text>
<text x="468.00" y="313.53" font-size="8.55" text-anchor="middle" fill="#262626">SD in TST</text>
<text x="495.10" y="304.53" font-size="8.55" text-anchor="middle" fill="#262626">SD in SE</text>
<text x="508.40" y="291.53" font-size="8.55" text-anchor="middle" fill="#262626">SD in SL</text>
<text x="510.10" y="268.13" font-size="8.55" text-anchor="middle" fill="#262626">SD in WASO/h</text>
<text x="509.40" y="245.03" font-size="8.55" text-anchor="middle" fill="#262626">SD in awakening/h</text>
<text x="495.30" y="230.53" font-size="8.55" text-anchor="middle" fill="#262626">SD in SMT</text>
<text x="474.70" y="214.60" font-size="8.6" font-weight="bold" text-anchor="middle" fill="#262626">Fragmented sleep (26.9%)</text>
<polygon points="595.30,259.20 591.55,260.20 588.80,262.95 587.80,266.70 588.80,270.45 591.55,273.20 595.30,274.20 599.05,273.20 601.80,270.45 602.80,266.70 601.80,262.95 599.05,260.20" fill="none" stroke="#DCDCDC" stroke-width="0.65"/>
<polygon points="595.30,251.70 587.80,253.71 582.31,259.20 580.30,266.70 582.31,274.20 587.80,279.69 595.30,281.70 602.80,279.69 608.29,274.20 610.30,266.70 608.29,259.20 602.80,253.71" fill="none" stroke="#DCDCDC" stroke-width="0.65"/>
<polygon points="595.30,244.20 584.05,247.21 575.81,255.45 572.80,266.70 575.81,277.95 584.05,286.19 595.30,289.20 606.55,286.19 614.79,277.95 617.80,266.70 614.79,255.45 606.55,247.21" fill="none" stroke="#DCDCDC" stroke-width="0.65"/>
<polygon points="595.30,236.70 580.30,240.72 569.32,251.70 565.30,266.70 569.32,281.70 580.30,292.68 595.30,296.70 610.30,292.68 621.28,281.70 625.30,266.70 621.28,251.70 610.30,240.72" fill="none" stroke="#DCDCDC" stroke-width="0.65"/>
<polygon points="595.30,229.20 576.55,234.22 562.82,247.95 557.80,266.70 562.82,285.45 576.55,299.18 595.30,304.20 614.05,299.18 627.78,285.45 632.80,266.70 627.78,247.95 614.05,234.22" fill="none" stroke="#DCDCDC" stroke-width="0.65"/>
<line x1="595.30" y1="259.20" x2="595.30" y2="229.20" stroke="#DCDCDC" stroke-width="0.65"/>
<line x1="591.55" y1="260.20" x2="576.55" y2="234.22" stroke="#DCDCDC" stroke-width="0.65"/>
<line x1="588.80" y1="262.95" x2="562.82" y2="247.95" stroke="#DCDCDC" stroke-width="0.65"/>
<line x1="587.80" y1="266.70" x2="557.80" y2="266.70" stroke="#DCDCDC" stroke-width="0.65"/>
<line x1="588.80" y1="270.45" x2="562.82" y2="285.45" stroke="#DCDCDC" stroke-width="0.65"/>
<line x1="591.55" y1="273.20" x2="576.55" y2="299.18" stroke="#DCDCDC" stroke-width="0.65"/>
<line x1="595.30" y1="274.20" x2="595.30" y2="304.20" stroke="#DCDCDC" stroke-width="0.65"/>
<line x1="599.05" y1="273.20" x2="614.05" y2="299.18" stroke="#DCDCDC" stroke-width="0.65"/>
<line x1="601.80" y1="270.45" x2="627.78" y2="285.45" stroke="#DCDCDC" stroke-width="0.65"/>
<line x1="602.80" y1="266.70" x2="632.80" y2="266.70" stroke="#DCDCDC" stroke-width="0.65"/>
<line x1="601.80" y1="262.95" x2="627.78" y2="247.95" stroke="#DCDCDC" stroke-width="0.65"/>
<line x1="599.05" y1="260.20" x2="614.05" y2="234.22" stroke="#DCDCDC" stroke-width="0.65"/>
<polygon points="595.30,248.10 584.65,248.25 583.09,259.65 572.20,266.70 579.71,275.70 585.85,283.07 595.30,290.10 604.90,283.33 609.33,274.80 613.30,266.70 612.71,256.65 605.80,248.51" fill="#9a9a9a" fill-opacity="0.47" stroke="none"/>
<text x="593.50" y="260.85" font-size="6.7" text-anchor="middle" fill="#333">0</text>
<text x="593.50" y="253.85" font-size="6.7" text-anchor="middle" fill="#333">0.25</text>
<text x="593.50" y="246.85" font-size="6.7" text-anchor="middle" fill="#333">0.5</text>
<text x="593.50" y="239.85" font-size="6.7" text-anchor="middle" fill="#333">0.75</text>
<text x="593.50" y="232.85" font-size="6.7" text-anchor="middle" fill="#333">1</text>
<polygon points="595.30,259.20 591.55,260.20 564.64,249.00 559.90,266.70 573.74,279.15 584.65,285.15 595.30,293.70 607.15,287.22 627.78,285.45 613.30,266.70 614.79,255.45 605.20,249.55" fill="none" stroke="#E76BF3" stroke-width="1.4" stroke-linejoin="miter"/>
<circle cx="595.30" cy="259.20" r="1.25" fill="#E76BF3"/>
<circle cx="591.55" cy="260.20" r="1.25" fill="#E76BF3"/>
<circle cx="564.64" cy="249.00" r="1.25" fill="#E76BF3"/>
<circle cx="559.90" cy="266.70" r="1.25" fill="#E76BF3"/>
<circle cx="573.74" cy="279.15" r="1.25" fill="#E76BF3"/>
<circle cx="584.65" cy="285.15" r="1.25" fill="#E76BF3"/>
<circle cx="595.30" cy="293.70" r="1.25" fill="#E76BF3"/>
<circle cx="607.15" cy="287.22" r="1.25" fill="#E76BF3"/>
<circle cx="627.78" cy="285.45" r="1.25" fill="#E76BF3"/>
<circle cx="613.30" cy="266.70" r="1.25" fill="#E76BF3"/>
<circle cx="614.79" cy="255.45" r="1.25" fill="#E76BF3"/>
<circle cx="605.20" cy="249.55" r="1.25" fill="#E76BF3"/>
<text x="595.20" y="224.93" font-size="8.55" text-anchor="middle" fill="#262626">TST</text>
<text x="573.90" y="231.83" font-size="8.55" text-anchor="middle" fill="#262626">SE</text>
<text x="560.20" y="247.83" font-size="8.55" text-anchor="middle" fill="#262626">SL</text>
<text x="558.10" y="267.83" font-size="8.55" text-anchor="middle" fill="#262626">WASO/h</text>
<text x="561.20" y="291.23" font-size="8.55" text-anchor="middle" fill="#262626">Awakening/h</text>
<text x="574.00" y="304.83" font-size="8.55" text-anchor="middle" fill="#262626">SMT</text>
<text x="599.00" y="313.53" font-size="8.55" text-anchor="middle" fill="#262626">SD in TST</text>
<text x="626.10" y="304.53" font-size="8.55" text-anchor="middle" fill="#262626">SD in SE</text>
<text x="639.80" y="291.53" font-size="8.55" text-anchor="middle" fill="#262626">SD in SL</text>
<text x="641.20" y="268.13" font-size="8.55" text-anchor="middle" fill="#262626">SD in WASO/h</text>
<text x="637.60" y="245.03" font-size="8.55" text-anchor="middle" fill="#262626">SD in awakening/h</text>
<text x="626.40" y="230.53" font-size="8.55" text-anchor="middle" fill="#262626">SD in SMT</text>
<text x="600.50" y="214.60" font-size="8.6" font-weight="bold" text-anchor="middle" fill="#262626">Prolonged sleep latency (5.6%)</text>
<rect x="71.1" y="331.1" width="12.8" height="12.5" fill="#C9C9C9"/>
<text x="91.80" y="341.00" font-size="11.25" text-anchor="start" font-weight="normal" fill="#262626">Mean of sleep characteristics in total populations</text>
<line x1="346.1" y1="337.6" x2="367.8" y2="337.6" stroke="#000" stroke-width="2.7"/>
<circle cx="356.7" cy="337.6" r="2.3" fill="#000"/>
<text x="377.60" y="341.00" font-size="11.25" text-anchor="start" font-weight="normal" fill="#262626">Mean of sleep characteristics in a cluster</text>
<path d="M207.1,396.0 L233.7,396.0 L251.1,396.0 L266.3,396.0 L279.5,396.0 L290.8,396.0 L300.5,396.0 L308.8,396.0 L315.9,396.0 L321.9,396.1 L327.2,396.1 L331.8,396.1 L336.0,396.1 L340.0,396.1 L344.1,396.1 L348.3,396.1 L352.9,396.1 L358.2,396.1 L364.2,396.2 L371.3,396.2 L379.6,396.2 L389.3,396.2 L400.6,396.2 L413.8,396.2 L429.0,396.2 L446.4,396.2 L473.0,396.2 L473.0,396.9 L446.4,396.9 L429.0,396.9 L413.8,396.9 L400.6,396.9 L389.3,396.9 L379.6,396.9 L371.3,396.9 L364.2,396.9 L358.2,396.9 L352.9,396.9 L348.3,396.9 L344.1,396.9 L340.0,396.8 L336.0,396.8 L331.8,396.8 L327.2,396.8 L321.9,396.8 L315.9,396.8 L308.8,396.8 L300.5,396.8 L290.8,396.8 L279.5,396.8 L266.3,396.8 L251.1,396.8 L233.7,396.8 L207.1,396.8 Z" fill="#E76BF3" fill-opacity="0.5"/>
<path d="M207.1,396.8 L233.7,396.8 L251.1,396.9 L266.3,397.2 L279.5,397.7 L290.8,398.3 L300.5,399.2 L308.8,400.1 L315.9,401.2 L321.9,402.3 L327.2,403.5 L331.8,404.8 L336.0,406.1 L340.0,407.5 L344.1,408.8 L348.3,410.1 L352.9,411.4 L358.2,412.6 L364.2,413.8 L371.3,414.8 L379.6,415.8 L389.3,416.6 L400.6,417.3 L413.8,417.8 L429.0,418.1 L446.4,418.2 L473.0,418.2 L473.0,423.8 L446.4,423.8 L429.0,423.7 L413.8,423.3 L400.6,422.8 L389.3,422.2 L379.6,421.4 L371.3,420.4 L364.2,419.4 L358.2,418.2 L352.9,417.0 L348.3,415.7 L344.1,414.4 L340.0,413.1 L336.0,411.7 L331.8,410.4 L327.2,409.1 L321.9,407.9 L315.9,406.8 L308.8,405.7 L300.5,404.8 L290.8,404.0 L279.5,403.3 L266.3,402.8 L251.1,402.5 L233.7,402.4 L207.1,402.4 Z" fill="#E76BF3" fill-opacity="0.5"/>
<path d="M207.1,402.4 L233.7,402.4 L251.1,402.8 L266.3,404.2 L279.5,406.3 L290.8,409.2 L300.5,412.7 L308.8,416.7 L315.9,421.3 L321.9,426.2 L327.2,431.4 L331.8,436.9 L336.0,442.6 L340.0,448.3 L344.1,454.0 L348.3,459.7 L352.9,465.1 L358.2,470.4 L364.2,475.3 L371.3,479.9 L379.6,483.9 L389.3,487.4 L400.6,490.3 L413.8,492.4 L429.0,493.7 L446.4,494.2 L473.0,494.2 L473.0,496.8 L446.4,496.8 L429.0,496.3 L413.8,495.0 L400.6,492.9 L389.3,490.0 L379.6,486.5 L371.3,482.5 L364.2,477.9 L358.2,473.0 L352.9,467.8 L348.3,462.3 L344.1,456.6 L340.0,450.9 L336.0,445.2 L331.8,439.5 L327.2,434.0 L321.9,428.8 L315.9,423.9 L308.8,419.3 L300.5,415.3 L290.8,411.8 L279.5,408.9 L266.3,406.8 L251.1,405.5 L233.7,405.0 L207.1,405.0 Z" fill="#E76BF3" fill-opacity="0.5"/>
<path d="M207.1,405.0 L233.7,405.0 L251.1,405.6 L266.3,407.5 L279.5,410.4 L290.8,414.3 L300.5,419.0 L308.8,424.5 L315.9,430.7 L321.9,437.4 L327.2,444.6 L331.8,452.1 L336.0,459.7 L340.0,467.6 L344.1,475.4 L348.3,483.0 L352.9,490.5 L358.2,497.7 L364.2,504.4 L371.3,510.6 L379.6,516.1 L389.3,520.8 L400.6,524.7 L413.8,527.6 L429.0,529.5 L446.4,530.1 L473.0,530.1 L473.0,534.5 L446.4,534.5 L429.0,533.9 L413.8,532.1 L400.6,529.2 L389.3,525.3 L379.6,520.5 L371.3,515.0 L364.2,508.8 L358.2,502.1 L352.9,495.0 L348.3,487.5 L344.1,479.8 L340.0,472.0 L336.0,464.2 L331.8,456.5 L327.2,449.1 L321.9,441.9 L315.9,435.2 L308.8,429.0 L300.5,423.5 L290.8,418.8 L279.5,414.9 L266.3,412.0 L251.1,410.1 L233.7,409.5 L207.1,409.5 Z" fill="#E76BF3" fill-opacity="0.5"/>
<path d="M207.1,409.5 L233.7,409.5 L251.1,410.5 L266.3,413.4 L279.5,417.9 L290.8,424.0 L300.5,431.4 L308.8,440.1 L315.9,449.7 L321.9,460.2 L327.2,471.4 L331.8,483.1 L336.0,495.1 L340.0,507.4 L344.1,519.6 L348.3,531.6 L352.9,543.3 L358.2,554.5 L364.2,565.0 L371.3,574.6 L379.6,583.3 L389.3,590.7 L400.6,596.8 L413.8,601.3 L429.0,604.2 L446.4,605.2 L473.0,605.2 L473.0,608.2 L446.4,608.2 L429.0,607.2 L413.8,604.3 L400.6,599.8 L389.3,593.7 L379.6,586.2 L371.3,577.6 L364.2,568.0 L358.2,557.4 L352.9,546.3 L348.3,534.6 L344.1,522.5 L340.0,510.3 L336.0,498.1 L331.8,486.1 L327.2,474.4 L321.9,463.2 L315.9,452.7 L308.8,443.1 L300.5,434.4 L290.8,427.0 L279.5,420.9 L266.3,416.4 L251.1,413.5 L233.7,412.5 L207.1,412.5 Z" fill="#E76BF3" fill-opacity="0.5"/>
<path d="M207.1,424.0 L233.7,424.0 L251.1,423.9 L266.3,423.5 L279.5,422.8 L290.8,422.0 L300.5,421.0 L308.8,419.8 L315.9,418.4 L321.9,417.0 L327.2,415.4 L331.8,413.8 L336.0,412.2 L340.0,410.5 L344.1,408.8 L348.3,407.1 L352.9,405.5 L358.2,404.0 L364.2,402.5 L371.3,401.2 L379.6,400.0 L389.3,398.9 L400.6,398.1 L413.8,397.5 L429.0,397.1 L446.4,396.9 L473.0,396.9 L473.0,401.4 L446.4,401.4 L429.0,401.5 L413.8,401.9 L400.6,402.5 L389.3,403.4 L379.6,404.4 L371.3,405.6 L364.2,407.0 L358.2,408.4 L352.9,410.0 L348.3,411.6 L344.1,413.2 L340.0,414.9 L336.0,416.6 L331.8,418.3 L327.2,419.9 L321.9,421.5 L315.9,422.9 L308.8,424.3 L300.5,425.4 L290.8,426.5 L279.5,427.3 L266.3,428.0 L251.1,428.3 L233.7,428.5 L207.1,428.5 Z" fill="#00B0F6" fill-opacity="0.5"/>
<path d="M207.1,428.5 L233.7,428.5 L251.1,428.5 L266.3,428.4 L279.5,428.3 L290.8,428.1 L300.5,428.0 L308.8,427.7 L315.9,427.5 L321.9,427.3 L327.2,427.0 L331.8,426.7 L336.0,426.4 L340.0,426.1 L344.1,425.8 L348.3,425.5 L352.9,425.3 L358.2,425.0 L364.2,424.7 L371.3,424.5 L379.6,424.3 L389.3,424.1 L400.6,424.0 L413.8,423.9 L429.0,423.8 L446.4,423.8 L473.0,423.8 L473.0,458.6 L446.4,458.6 L429.0,458.7 L413.8,458.7 L400.6,458.9 L389.3,459.0 L379.6,459.2 L371.3,459.4 L364.2,459.7 L358.2,459.9 L352.9,460.2 L348.3,460.5 L344.1,460.8 L340.0,461.1 L336.0,461.4 L331.8,461.7 L327.2,462.0 L321.9,462.3 L315.9,462.6 L308.8,462.8 L300.5,463.1 L290.8,463.2 L279.5,463.4 L266.3,463.5 L251.1,463.6 L233.7,463.6 L207.1,463.6 Z" fill="#00B0F6" fill-opacity="0.5"/>
<path d="M207.1,463.6 L233.7,463.6 L251.1,463.8 L266.3,464.3 L279.5,465.0 L290.8,466.1 L300.5,467.3 L308.8,468.8 L315.9,470.4 L321.9,472.2 L327.2,474.1 L331.8,476.1 L336.0,478.1 L340.0,480.2 L344.1,482.3 L348.3,484.3 L352.9,486.3 L358.2,488.2 L364.2,490.0 L371.3,491.6 L379.6,493.1 L389.3,494.3 L400.6,495.4 L413.8,496.2 L429.0,496.6 L446.4,496.8 L473.0,496.8 L473.0,508.0 L446.4,508.0 L429.0,507.8 L413.8,507.3 L400.6,506.5 L389.3,505.5 L379.6,504.2 L371.3,502.8 L364.2,501.1 L358.2,499.4 L352.9,497.5 L348.3,495.5 L344.1,493.5 L340.0,491.4 L336.0,489.3 L331.8,487.3 L327.2,485.3 L321.9,483.4 L315.9,481.6 L308.8,480.0 L300.5,478.5 L290.8,477.3 L279.5,476.2 L266.3,475.5 L251.1,475.0 L233.7,474.8 L207.1,474.8 Z" fill="#00B0F6" fill-opacity="0.5"/>
<path d="M207.1,474.8 L233.7,474.8 L251.1,475.1 L266.3,476.0 L279.5,477.4 L290.8,479.2 L300.5,481.5 L308.8,484.2 L315.9,487.1 L321.9,490.3 L327.2,493.7 L331.8,497.3 L336.0,501.0 L340.0,504.7 L344.1,508.4 L348.3,512.1 L352.9,515.6 L358.2,519.1 L364.2,522.3 L371.3,525.2 L379.6,527.8 L389.3,530.1 L400.6,532.0 L413.8,533.4 L429.0,534.2 L446.4,534.5 L473.0,534.5 L473.0,544.9 L446.4,544.9 L429.0,544.6 L413.8,543.7 L400.6,542.3 L389.3,540.5 L379.6,538.2 L371.3,535.6 L364.2,532.6 L358.2,529.4 L352.9,526.0 L348.3,522.5 L344.1,518.8 L340.0,515.1 L336.0,511.4 L331.8,507.7 L327.2,504.2 L321.9,500.7 L315.9,497.5 L308.8,494.6 L300.5,492.0 L290.8,489.7 L279.5,487.9 L266.3,486.5 L251.1,485.6 L233.7,485.3 L207.1,485.3 Z" fill="#00B0F6" fill-opacity="0.5"/>
<path d="M207.1,485.3 L233.7,485.3 L251.1,485.9 L266.3,487.7 L279.5,490.6 L290.8,494.4 L300.5,499.1 L308.8,504.5 L315.9,510.6 L321.9,517.1 L327.2,524.2 L331.8,531.5 L336.0,539.1 L340.0,546.7 L344.1,554.4 L348.3,562.0 L352.9,569.3 L358.2,576.3 L364.2,582.9 L371.3,589.0 L379.6,594.4 L389.3,599.1 L400.6,602.9 L413.8,605.8 L429.0,607.6 L446.4,608.2 L473.0,608.2 L473.0,619.4 L446.4,619.4 L429.0,618.7 L413.8,616.9 L400.6,614.1 L389.3,610.3 L379.6,605.6 L371.3,600.2 L364.2,594.1 L358.2,587.5 L352.9,580.5 L348.3,573.1 L344.1,565.6 L340.0,557.9 L336.0,550.3 L331.8,542.7 L327.2,535.4 L321.9,528.4 L315.9,521.8 L308.8,515.7 L300.5,510.3 L290.8,505.6 L279.5,501.8 L266.3,498.9 L251.1,497.1 L233.7,496.5 L207.1,496.5 Z" fill="#00B0F6" fill-opacity="0.5"/>
<path d="M207.1,508.0 L233.7,508.0 L251.1,507.5 L266.3,505.9 L279.5,503.4 L290.8,500.1 L300.5,496.0 L308.8,491.3 L315.9,486.1 L321.9,480.4 L327.2,474.3 L331.8,467.9 L336.0,461.3 L340.0,454.7 L344.1,448.0 L348.3,441.5 L352.9,435.1 L358.2,429.0 L364.2,423.3 L371.3,418.0 L379.6,413.3 L389.3,409.3 L400.6,406.0 L413.8,403.5 L429.0,401.9 L446.4,401.4 L473.0,401.4 L473.0,403.2 L446.4,403.2 L429.0,403.8 L413.8,405.3 L400.6,407.8 L389.3,411.1 L379.6,415.2 L371.3,419.9 L364.2,425.2 L358.2,430.9 L352.9,437.0 L348.3,443.4 L344.1,449.9 L340.0,456.6 L336.0,463.2 L331.8,469.8 L327.2,476.2 L321.9,482.3 L315.9,488.0 L308.8,493.2 L300.5,497.9 L290.8,502.0 L279.5,505.3 L266.3,507.8 L251.1,509.4 L233.7,509.9 L207.1,509.9 Z" fill="#00BF7D" fill-opacity="0.5"/>
<path d="M207.1,509.9 L233.7,509.9 L251.1,509.6 L266.3,508.9 L279.5,507.7 L290.8,506.1 L300.5,504.2 L308.8,501.9 L315.9,499.4 L321.9,496.6 L327.2,493.7 L331.8,490.6 L336.0,487.5 L340.0,484.3 L344.1,481.1 L348.3,477.9 L352.9,474.9 L358.2,471.9 L364.2,469.2 L371.3,466.7 L379.6,464.4 L389.3,462.4 L400.6,460.9 L413.8,459.7 L429.0,458.9 L446.4,458.6 L473.0,458.6 L473.0,464.6 L446.4,464.6 L429.0,464.8 L413.8,465.6 L400.6,466.8 L389.3,468.4 L379.6,470.4 L371.3,472.6 L364.2,475.2 L358.2,477.9 L352.9,480.9 L348.3,483.9 L344.1,487.1 L340.0,490.3 L336.0,493.5 L331.8,496.7 L327.2,499.7 L321.9,502.7 L315.9,505.4 L308.8,508.0 L300.5,510.2 L290.8,512.2 L279.5,513.8 L266.3,515.0 L251.1,515.7 L233.7,516.0 L207.1,516.0 Z" fill="#00BF7D" fill-opacity="0.5"/>
<path d="M207.1,516.0 L233.7,516.0 L251.1,516.0 L266.3,515.8 L279.5,515.7 L290.8,515.4 L300.5,515.1 L308.8,514.7 L315.9,514.3 L321.9,513.9 L327.2,513.5 L331.8,513.0 L336.0,512.5 L340.0,512.0 L344.1,511.5 L348.3,511.0 L352.9,510.5 L358.2,510.0 L364.2,509.6 L371.3,509.2 L379.6,508.9 L389.3,508.6 L400.6,508.3 L413.8,508.1 L429.0,508.0 L446.4,508.0 L473.0,508.0 L473.0,510.2 L446.4,510.2 L429.0,510.2 L413.8,510.3 L400.6,510.5 L389.3,510.8 L379.6,511.1 L371.3,511.5 L364.2,511.9 L358.2,512.3 L352.9,512.8 L348.3,513.2 L344.1,513.7 L340.0,514.2 L336.0,514.7 L331.8,515.2 L327.2,515.7 L321.9,516.2 L315.9,516.6 L308.8,517.0 L300.5,517.4 L290.8,517.7 L279.5,517.9 L266.3,518.1 L251.1,518.2 L233.7,518.3 L207.1,518.3 Z" fill="#00BF7D" fill-opacity="0.5"/>
<path d="M207.1,518.3 L233.7,518.3 L251.1,518.4 L266.3,518.8 L279.5,519.4 L290.8,520.3 L300.5,521.3 L308.8,522.4 L315.9,523.8 L321.9,525.2 L327.2,526.7 L331.8,528.3 L336.0,529.9 L340.0,531.6 L344.1,533.3 L348.3,534.9 L352.9,536.5 L358.2,538.0 L364.2,539.4 L371.3,540.7 L379.6,541.9 L389.3,542.9 L400.6,543.8 L413.8,544.4 L429.0,544.8 L446.4,544.9 L473.0,544.9 L473.0,550.5 L446.4,550.5 L429.0,550.3 L413.8,549.9 L400.6,549.3 L389.3,548.5 L379.6,547.5 L371.3,546.3 L364.2,545.0 L358.2,543.6 L352.9,542.1 L348.3,540.5 L344.1,538.9 L340.0,537.2 L336.0,535.6 L331.8,534.0 L327.2,532.4 L321.9,530.9 L315.9,529.4 L308.8,528.1 L300.5,527.0 L290.8,526.0 L279.5,525.1 L266.3,524.5 L251.1,524.1 L233.7,524.0 L207.1,524.0 Z" fill="#00BF7D" fill-opacity="0.5"/>
<path d="M207.1,524.0 L233.7,524.0 L251.1,524.5 L266.3,525.9 L279.5,528.1 L290.8,531.1 L300.5,534.7 L308.8,538.9 L315.9,543.6 L321.9,548.7 L327.2,554.2 L331.8,559.9 L336.0,565.7 L340.0,571.7 L344.1,577.6 L348.3,583.5 L352.9,589.2 L358.2,594.6 L364.2,599.8 L371.3,604.5 L379.6,608.7 L389.3,612.3 L400.6,615.3 L413.8,617.5 L429.0,618.9 L446.4,619.4 L473.0,619.4 L473.0,623.5 L446.4,623.5 L429.0,623.0 L413.8,621.6 L400.6,619.4 L389.3,616.4 L379.6,612.8 L371.3,608.6 L364.2,603.9 L358.2,598.8 L352.9,593.3 L348.3,587.6 L344.1,581.8 L340.0,575.8 L336.0,569.9 L331.8,564.0 L327.2,558.3 L321.9,552.9 L315.9,547.8 L308.8,543.1 L300.5,538.9 L290.8,535.3 L279.5,532.3 L266.3,530.1 L251.1,528.7 L233.7,528.2 L207.1,528.2 Z" fill="#00BF7D" fill-opacity="0.5"/>
<path d="M207.1,539.8 L233.7,539.8 L251.1,539.1 L266.3,537.1 L279.5,533.9 L290.8,529.7 L300.5,524.5 L308.8,518.5 L315.9,511.7 L321.9,504.4 L327.2,496.6 L331.8,488.4 L336.0,480.0 L340.0,471.5 L344.1,463.0 L348.3,454.6 L352.9,446.4 L358.2,438.6 L364.2,431.3 L371.3,424.6 L379.6,418.5 L389.3,413.4 L400.6,409.1 L413.8,405.9 L429.0,403.9 L446.4,403.2 L473.0,403.2 L473.0,404.3 L446.4,404.3 L429.0,405.0 L413.8,407.0 L400.6,410.2 L389.3,414.5 L379.6,419.7 L371.3,425.7 L364.2,432.4 L358.2,439.8 L352.9,447.6 L348.3,455.7 L344.1,464.1 L340.0,472.6 L336.0,481.2 L331.8,489.5 L327.2,497.7 L321.9,505.5 L315.9,512.8 L308.8,519.6 L300.5,525.6 L290.8,530.8 L279.5,535.1 L266.3,538.2 L251.1,540.2 L233.7,540.9 L207.1,540.9 Z" fill="#A3A500" fill-opacity="0.5"/>
<path d="M207.1,540.9 L233.7,540.9 L251.1,540.5 L266.3,539.4 L279.5,537.6 L290.8,535.3 L300.5,532.4 L308.8,529.0 L315.9,525.2 L321.9,521.1 L327.2,516.8 L331.8,512.2 L336.0,507.5 L340.0,502.8 L344.1,498.0 L348.3,493.3 L352.9,488.7 L358.2,484.4 L364.2,480.3 L371.3,476.5 L379.6,473.1 L389.3,470.2 L400.6,467.9 L413.8,466.1 L429.0,465.0 L446.4,464.6 L473.0,464.6 L473.0,472.4 L446.4,472.4 L429.0,472.8 L413.8,473.9 L400.6,475.7 L389.3,478.0 L379.6,480.9 L371.3,484.3 L364.2,488.1 L358.2,492.2 L352.9,496.6 L348.3,501.1 L344.1,505.8 L340.0,510.6 L336.0,515.3 L331.8,520.0 L327.2,524.6 L321.9,529.0 L315.9,533.1 L308.8,536.8 L300.5,540.2 L290.8,543.1 L279.5,545.5 L266.3,547.3 L251.1,548.4 L233.7,548.8 L207.1,548.8 Z" fill="#A3A500" fill-opacity="0.5"/>
<path d="M207.1,548.8 L233.7,548.8 L251.1,548.6 L266.3,548.0 L279.5,547.1 L290.8,545.9 L300.5,544.5 L308.8,542.8 L315.9,540.9 L321.9,538.8 L327.2,536.6 L331.8,534.3 L336.0,531.9 L340.0,529.5 L344.1,527.1 L348.3,524.7 L352.9,522.4 L358.2,520.2 L364.2,518.1 L371.3,516.2 L379.6,514.5 L389.3,513.0 L400.6,511.8 L413.8,511.0 L429.0,510.4 L446.4,510.2 L473.0,510.2 L473.0,512.0 L446.4,512.0 L429.0,512.2 L413.8,512.8 L400.6,513.7 L389.3,514.9 L379.6,516.4 L371.3,518.1 L364.2,520.0 L358.2,522.1 L352.9,524.3 L348.3,526.6 L344.1,528.9 L340.0,531.4 L336.0,533.8 L331.8,536.1 L327.2,538.4 L321.9,540.7 L315.9,542.7 L308.8,544.6 L300.5,546.3 L290.8,547.8 L279.5,549.0 L266.3,549.9 L251.1,550.5 L233.7,550.7 L207.1,550.7 Z" fill="#A3A500" fill-opacity="0.5"/>
<path d="M207.1,550.7 L233.7,550.7 L251.1,550.7 L266.3,550.7 L279.5,550.7 L290.8,550.6 L300.5,550.6 L308.8,550.6 L315.9,550.6 L321.9,550.6 L327.2,550.6 L331.8,550.6 L336.0,550.6 L340.0,550.6 L344.1,550.5 L348.3,550.5 L352.9,550.5 L358.2,550.5 L364.2,550.5 L371.3,550.5 L379.6,550.5 L389.3,550.5 L400.6,550.5 L413.8,550.5 L429.0,550.5 L446.4,550.5 L473.0,550.5 L473.0,566.4 L446.4,566.4 L429.0,566.4 L413.8,566.4 L400.6,566.4 L389.3,566.4 L379.6,566.4 L371.3,566.4 L364.2,566.4 L358.2,566.5 L352.9,566.5 L348.3,566.5 L344.1,566.5 L340.0,566.6 L336.0,566.6 L331.8,566.6 L327.2,566.6 L321.9,566.7 L315.9,566.7 L308.8,566.7 L300.5,566.7 L290.8,566.7 L279.5,566.7 L266.3,566.8 L251.1,566.8 L233.7,566.8 L207.1,566.8 Z" fill="#A3A500" fill-opacity="0.5"/>
<path d="M207.1,566.8 L233.7,566.8 L251.1,567.1 L266.3,567.9 L279.5,569.2 L290.8,571.0 L300.5,573.1 L308.8,575.6 L315.9,578.4 L321.9,581.5 L327.2,584.7 L331.8,588.1 L336.0,591.6 L340.0,595.1 L344.1,598.7 L348.3,602.1 L352.9,605.5 L358.2,608.8 L364.2,611.8 L371.3,614.6 L379.6,617.1 L389.3,619.3 L400.6,621.0 L413.8,622.4 L429.0,623.2 L446.4,623.5 L473.0,623.5 L473.0,636.1 L446.4,636.1 L429.0,635.9 L413.8,635.0 L400.6,633.7 L389.3,631.9 L379.6,629.8 L371.3,627.3 L364.2,624.5 L358.2,621.5 L352.9,618.2 L348.3,614.8 L344.1,611.4 L340.0,607.8 L336.0,604.3 L331.8,600.8 L327.2,597.4 L321.9,594.2 L315.9,591.1 L308.8,588.4 L300.5,585.9 L290.8,583.7 L279.5,581.9 L266.3,580.6 L251.1,579.8 L233.7,579.5 L207.1,579.5 Z" fill="#A3A500" fill-opacity="0.5"/>
<path d="M207.1,591.3 L233.7,591.3 L251.1,590.4 L266.3,587.6 L279.5,583.3 L290.8,577.5 L300.5,570.3 L308.8,562.1 L315.9,552.9 L321.9,542.8 L327.2,532.1 L331.8,521.0 L336.0,509.5 L340.0,497.8 L344.1,486.2 L348.3,474.7 L352.9,463.5 L358.2,452.8 L364.2,442.8 L371.3,433.6 L379.6,425.3 L389.3,418.2 L400.6,412.4 L413.8,408.0 L429.0,405.3 L446.4,404.3 L473.0,404.3 L473.0,406.2 L446.4,406.2 L429.0,407.1 L413.8,409.9 L400.6,414.2 L389.3,420.0 L379.6,427.2 L371.3,435.4 L364.2,444.6 L358.2,454.7 L352.9,465.4 L348.3,476.5 L344.1,488.0 L340.0,499.7 L336.0,511.3 L331.8,522.8 L327.2,534.0 L321.9,544.7 L315.9,554.7 L308.8,564.0 L300.5,572.2 L290.8,579.3 L279.5,585.1 L266.3,589.5 L251.1,592.2 L233.7,593.2 L207.1,593.2 Z" fill="#F8766D" fill-opacity="0.5"/>
<path d="M207.1,593.2 L233.7,593.2 L251.1,592.6 L266.3,590.8 L279.5,588.0 L290.8,584.2 L300.5,579.6 L308.8,574.3 L315.9,568.3 L321.9,561.8 L327.2,554.9 L331.8,547.7 L336.0,540.3 L340.0,532.8 L344.1,525.2 L348.3,517.8 L352.9,510.6 L358.2,503.7 L364.2,497.2 L371.3,491.3 L379.6,485.9 L389.3,481.3 L400.6,477.6 L413.8,474.8 L429.0,473.0 L446.4,472.4 L473.0,472.4 L473.0,482.4 L446.4,482.4 L429.0,483.0 L413.8,484.8 L400.6,487.6 L389.3,491.4 L379.6,495.9 L371.3,501.3 L364.2,507.2 L358.2,513.7 L352.9,520.6 L348.3,527.9 L344.1,535.3 L340.0,542.8 L336.0,550.3 L331.8,557.8 L327.2,565.0 L321.9,571.9 L315.9,578.4 L308.8,584.4 L300.5,589.7 L290.8,594.3 L279.5,598.0 L266.3,600.9 L251.1,602.6 L233.7,603.2 L207.1,603.2 Z" fill="#F8766D" fill-opacity="0.5"/>
<path d="M207.1,603.2 L233.7,603.2 L251.1,602.8 L266.3,601.4 L279.5,599.3 L290.8,596.5 L300.5,593.0 L308.8,589.0 L315.9,584.5 L321.9,579.6 L327.2,574.4 L331.8,568.9 L336.0,563.3 L340.0,557.6 L344.1,552.0 L348.3,546.3 L352.9,540.9 L358.2,535.7 L364.2,530.8 L371.3,526.3 L379.6,522.3 L389.3,518.8 L400.6,516.0 L413.8,513.8 L429.0,512.5 L446.4,512.0 L473.0,512.0 L473.0,518.0 L446.4,518.0 L429.0,518.5 L413.8,519.8 L400.6,521.9 L389.3,524.8 L379.6,528.2 L371.3,532.2 L364.2,536.7 L358.2,541.6 L352.9,546.9 L348.3,552.3 L344.1,557.9 L340.0,563.6 L336.0,569.3 L331.8,574.9 L327.2,580.3 L321.9,585.6 L315.9,590.4 L308.8,594.9 L300.5,599.0 L290.8,602.4 L279.5,605.3 L266.3,607.4 L251.1,608.7 L233.7,609.2 L207.1,609.2 Z" fill="#F8766D" fill-opacity="0.5"/>
<path d="M207.1,609.2 L233.7,609.2 L251.1,609.0 L266.3,608.4 L279.5,607.4 L290.8,606.0 L300.5,604.4 L308.8,602.5 L315.9,600.4 L321.9,598.1 L327.2,595.6 L331.8,593.1 L336.0,590.4 L340.0,587.8 L344.1,585.1 L348.3,582.5 L352.9,579.9 L358.2,577.5 L364.2,575.2 L371.3,573.1 L379.6,571.2 L389.3,569.5 L400.6,568.2 L413.8,567.2 L429.0,566.6 L446.4,566.4 L473.0,566.4 L473.0,593.0 L446.4,593.0 L429.0,593.2 L413.8,593.8 L400.6,594.8 L389.3,596.2 L379.6,597.8 L371.3,599.7 L364.2,601.8 L358.2,604.2 L352.9,606.6 L348.3,609.2 L344.1,611.8 L340.0,614.5 L336.0,617.2 L331.8,619.8 L327.2,622.4 L321.9,624.9 L315.9,627.2 L308.8,629.3 L300.5,631.2 L290.8,632.8 L279.5,634.2 L266.3,635.2 L251.1,635.8 L233.7,636.0 L207.1,636.0 Z" fill="#F8766D" fill-opacity="0.5"/>
<path d="M207.1,636.0 L233.7,636.0 L251.1,636.0 L266.3,636.0 L279.5,636.0 L290.8,636.0 L300.5,636.0 L308.8,636.1 L315.9,636.1 L321.9,636.1 L327.2,636.1 L331.8,636.1 L336.0,636.1 L340.0,636.1 L344.1,636.1 L348.3,636.1 L352.9,636.1 L358.2,636.1 L364.2,636.1 L371.3,636.1 L379.6,636.1 L389.3,636.1 L400.6,636.1 L413.8,636.1 L429.0,636.1 L446.4,636.1 L473.0,636.1 L473.0,680.5 L446.4,680.5 L429.0,680.5 L413.8,680.5 L400.6,680.5 L389.3,680.5 L379.6,680.5 L371.3,680.5 L364.2,680.5 L358.2,680.5 L352.9,680.5 L348.3,680.5 L344.1,680.5 L340.0,680.4 L336.0,680.4 L331.8,680.4 L327.2,680.4 L321.9,680.4 L315.9,680.4 L308.8,680.4 L300.5,680.4 L290.8,680.4 L279.5,680.4 L266.3,680.4 L251.1,680.4 L233.7,680.4 L207.1,680.4 Z" fill="#F8766D" fill-opacity="0.5"/>
<rect x="177.30" y="396.00" width="29.80" height="16.50" fill="#E76BF3" stroke="#333" stroke-width="0.65"/>
<rect x="473.00" y="396.20" width="29.80" height="10.00" fill="#E76BF3" stroke="#333" stroke-width="0.65"/>
<rect x="177.30" y="424.00" width="29.80" height="72.50" fill="#00B0F6" stroke="#333" stroke-width="0.65"/>
<rect x="473.00" y="418.20" width="29.80" height="64.20" fill="#00B0F6" stroke="#333" stroke-width="0.65"/>
<rect x="177.30" y="508.00" width="29.80" height="20.20" fill="#00BF7D" stroke="#333" stroke-width="0.65"/>
<rect x="473.00" y="494.20" width="29.80" height="23.80" fill="#00BF7D" stroke="#333" stroke-width="0.65"/>
<rect x="177.30" y="539.80" width="29.80" height="39.70" fill="#A3A500" stroke="#333" stroke-width="0.65"/>
<rect x="473.00" y="530.10" width="29.80" height="62.90" fill="#A3A500" stroke="#333" stroke-width="0.65"/>
<rect x="177.30" y="591.30" width="29.80" height="89.10" fill="#F8766D" stroke="#333" stroke-width="0.65"/>
<rect x="473.00" y="605.20" width="29.80" height="75.30" fill="#F8766D" stroke="#333" stroke-width="0.65"/>
<text x="108.90" y="406.00" font-size="11.25" text-anchor="middle" font-weight="normal" fill="#262626">Prolonged sleep latency</text>
<text x="108.90" y="418.50" font-size="11.25" text-anchor="middle" font-weight="normal" fill="#262626">(<tspan font-style="italic">n</tspan> = 44)</text>
<text x="569.00" y="406.30" font-size="11.25" text-anchor="middle" font-weight="normal" fill="#262626">Prolonged sleep latency</text>
<text x="569.00" y="418.80" font-size="11.25" text-anchor="middle" font-weight="normal" fill="#262626">(<tspan font-style="italic">n</tspan> = 27)</text>
<text x="121.30" y="461.40" font-size="11.25" text-anchor="middle" font-weight="normal" fill="#262626">Fragmented sleep</text>
<text x="121.30" y="473.90" font-size="11.25" text-anchor="middle" font-weight="normal" fill="#262626">(<tspan font-style="italic">n</tspan> = 194)</text>
<text x="556.80" y="457.30" font-size="11.25" text-anchor="middle" font-weight="normal" fill="#262626">Fragmented sleep</text>
<text x="556.80" y="469.80" font-size="11.25" text-anchor="middle" font-weight="normal" fill="#262626">(<tspan font-style="italic">n</tspan> = 173)</text>
<text x="86.90" y="520.20" font-size="11.25" text-anchor="middle" font-weight="normal" fill="#262626">Sleep irregularity and variability</text>
<text x="86.90" y="532.70" font-size="11.25" text-anchor="middle" font-weight="normal" fill="#262626">(<tspan font-style="italic">n</tspan> = 53)</text>
<text x="589.40" y="509.50" font-size="11.25" text-anchor="middle" font-weight="normal" fill="#262626">Sleep irregularity and variability</text>
<text x="589.40" y="522.00" font-size="11.25" text-anchor="middle" font-weight="normal" fill="#262626">(<tspan font-style="italic">n</tspan> = 64)</text>
<text x="115.70" y="561.80" font-size="11.25" text-anchor="middle" font-weight="normal" fill="#262626">Delayed sleep phase</text>
<text x="115.70" y="574.30" font-size="11.25" text-anchor="middle" font-weight="normal" fill="#262626">(<tspan font-style="italic">n</tspan> = 106)</text>
<text x="562.40" y="562.60" font-size="11.25" text-anchor="middle" font-weight="normal" fill="#262626">Delayed sleep phase</text>
<text x="562.40" y="575.10" font-size="11.25" text-anchor="middle" font-weight="normal" fill="#262626">(<tspan font-style="italic">n</tspan> = 170)</text>
<text x="135.90" y="637.00" font-size="11.25" text-anchor="middle" font-weight="normal" fill="#262626">Good sleep</text>
<text x="135.90" y="649.50" font-size="11.25" text-anchor="middle" font-weight="normal" fill="#262626">(<tspan font-style="italic">n</tspan> = 239)</text>
<text x="542.00" y="637.90" font-size="11.25" text-anchor="middle" font-weight="normal" fill="#262626">Good sleep</text>
<text x="542.00" y="650.40" font-size="11.25" text-anchor="middle" font-weight="normal" fill="#262626">(<tspan font-style="italic">n</tspan> = 202)</text>
<text x="189.50" y="704.20" font-size="11.25" text-anchor="middle" font-weight="normal" fill="#262626">Sleep clusters in adolescence</text>
<text x="486.00" y="704.20" font-size="11.25" text-anchor="middle" font-weight="normal" fill="#262626">Sleep clusters in young adulthood</text>
</svg></body></html>
